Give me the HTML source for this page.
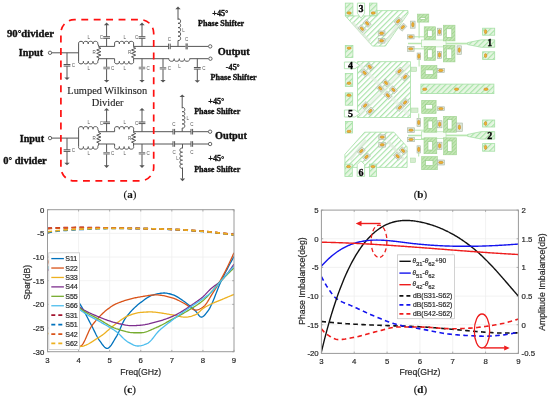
<!DOCTYPE html>
<html><head><meta charset="utf-8"><style>
html,body{margin:0;padding:0;background:#fff;}
svg{display:block;will-change:transform;}
#pc text,#pd text{stroke:#2a2a2a;stroke-width:0.2px;}

</style></head><body>
<svg font-family="Liberation Sans, sans-serif" width="550" height="397" viewBox="0 0 550 397">
<rect width="550" height="397" fill="#fff"/>
<g id="pc">
<line x1="78.58" y1="209.7" x2="78.58" y2="351.7" stroke="#efefef" stroke-width="0.8"/>
<line x1="109.67" y1="209.7" x2="109.67" y2="351.7" stroke="#efefef" stroke-width="0.8"/>
<line x1="140.75" y1="209.7" x2="140.75" y2="351.7" stroke="#efefef" stroke-width="0.8"/>
<line x1="171.83" y1="209.7" x2="171.83" y2="351.7" stroke="#efefef" stroke-width="0.8"/>
<line x1="202.92" y1="209.7" x2="202.92" y2="351.7" stroke="#efefef" stroke-width="0.8"/>
<line x1="47.5" y1="328.03" x2="234.0" y2="328.03" stroke="#efefef" stroke-width="0.8"/>
<line x1="47.5" y1="304.37" x2="234.0" y2="304.37" stroke="#efefef" stroke-width="0.8"/>
<line x1="47.5" y1="280.7" x2="234.0" y2="280.7" stroke="#efefef" stroke-width="0.8"/>
<line x1="47.5" y1="257.03" x2="234.0" y2="257.03" stroke="#efefef" stroke-width="0.8"/>
<line x1="47.5" y1="233.37" x2="234.0" y2="233.37" stroke="#efefef" stroke-width="0.8"/>
<line x1="47.5" y1="351.7" x2="47.5" y2="349.9" stroke="#9a9a9a" stroke-width="0.8"/>
<line x1="47.5" y1="209.7" x2="47.5" y2="211.5" stroke="#9a9a9a" stroke-width="0.8"/>
<line x1="78.58" y1="351.7" x2="78.58" y2="349.9" stroke="#9a9a9a" stroke-width="0.8"/>
<line x1="78.58" y1="209.7" x2="78.58" y2="211.5" stroke="#9a9a9a" stroke-width="0.8"/>
<line x1="109.67" y1="351.7" x2="109.67" y2="349.9" stroke="#9a9a9a" stroke-width="0.8"/>
<line x1="109.67" y1="209.7" x2="109.67" y2="211.5" stroke="#9a9a9a" stroke-width="0.8"/>
<line x1="140.75" y1="351.7" x2="140.75" y2="349.9" stroke="#9a9a9a" stroke-width="0.8"/>
<line x1="140.75" y1="209.7" x2="140.75" y2="211.5" stroke="#9a9a9a" stroke-width="0.8"/>
<line x1="171.83" y1="351.7" x2="171.83" y2="349.9" stroke="#9a9a9a" stroke-width="0.8"/>
<line x1="171.83" y1="209.7" x2="171.83" y2="211.5" stroke="#9a9a9a" stroke-width="0.8"/>
<line x1="202.92" y1="351.7" x2="202.92" y2="349.9" stroke="#9a9a9a" stroke-width="0.8"/>
<line x1="202.92" y1="209.7" x2="202.92" y2="211.5" stroke="#9a9a9a" stroke-width="0.8"/>
<line x1="234" y1="351.7" x2="234" y2="349.9" stroke="#9a9a9a" stroke-width="0.8"/>
<line x1="234" y1="209.7" x2="234" y2="211.5" stroke="#9a9a9a" stroke-width="0.8"/>
<line x1="47.5" y1="351.7" x2="49.3" y2="351.7" stroke="#9a9a9a" stroke-width="0.8"/>
<line x1="234.0" y1="351.7" x2="232.2" y2="351.7" stroke="#9a9a9a" stroke-width="0.8"/>
<line x1="47.5" y1="328.03" x2="49.3" y2="328.03" stroke="#9a9a9a" stroke-width="0.8"/>
<line x1="234.0" y1="328.03" x2="232.2" y2="328.03" stroke="#9a9a9a" stroke-width="0.8"/>
<line x1="47.5" y1="304.37" x2="49.3" y2="304.37" stroke="#9a9a9a" stroke-width="0.8"/>
<line x1="234.0" y1="304.37" x2="232.2" y2="304.37" stroke="#9a9a9a" stroke-width="0.8"/>
<line x1="47.5" y1="280.7" x2="49.3" y2="280.7" stroke="#9a9a9a" stroke-width="0.8"/>
<line x1="234.0" y1="280.7" x2="232.2" y2="280.7" stroke="#9a9a9a" stroke-width="0.8"/>
<line x1="47.5" y1="257.03" x2="49.3" y2="257.03" stroke="#9a9a9a" stroke-width="0.8"/>
<line x1="234.0" y1="257.03" x2="232.2" y2="257.03" stroke="#9a9a9a" stroke-width="0.8"/>
<line x1="47.5" y1="233.37" x2="49.3" y2="233.37" stroke="#9a9a9a" stroke-width="0.8"/>
<line x1="234.0" y1="233.37" x2="232.2" y2="233.37" stroke="#9a9a9a" stroke-width="0.8"/>
<line x1="47.5" y1="209.7" x2="49.3" y2="209.7" stroke="#9a9a9a" stroke-width="0.8"/>
<line x1="234.0" y1="209.7" x2="232.2" y2="209.7" stroke="#9a9a9a" stroke-width="0.8"/>
<clipPath id="clipc"><rect x="47.5" y="209.7" width="186.5" height="142.0"/></clipPath>
<g clip-path="url(#clipc)" fill="none" stroke-linejoin="round">
<path d="M47.5,266.5 L48.44,267.43 L49.37,268.36 L50.31,269.31 L51.25,270.26 L52.19,271.22 L53.12,272.2 L54.06,273.18 L55,274.17 L55.93,275.18 L56.87,276.19 L57.81,277.21 L58.75,278.24 L59.68,279.27 L60.62,280.32 L61.56,281.38 L62.49,282.44 L63.43,283.51 L64.37,284.58 L65.31,285.65 L66.24,286.71 L67.18,287.78 L68.12,288.85 L69.06,289.93 L69.99,291.03 L70.93,292.13 L71.87,293.26 L72.8,294.4 L73.74,295.57 L74.68,296.76 L75.62,297.98 L76.55,299.23 L77.49,300.52 L78.43,301.84 L79.36,303.21 L80.3,304.62 L81.24,306.12 L82.18,307.7 L83.11,309.35 L84.05,311.06 L84.99,312.81 L85.92,314.61 L86.86,316.43 L87.8,318.26 L88.74,320.09 L89.67,321.92 L90.61,323.72 L91.55,325.5 L92.48,327.3 L93.42,329.19 L94.36,331.12 L95.3,333.05 L96.23,334.94 L97.17,336.73 L98.11,338.38 L99.05,339.83 L99.98,341.12 L100.92,342.45 L101.86,343.77 L102.79,345.03 L103.73,346.18 L104.67,347.14 L105.61,347.87 L106.54,348.3 L107.48,348.36 L108.42,348.02 L109.35,347.32 L110.29,346.31 L111.23,345.07 L112.17,343.65 L113.1,342.11 L114.04,340.53 L114.98,338.95 L115.91,337.45 L116.85,335.86 L117.79,334.03 L118.73,332.02 L119.66,329.91 L120.6,327.75 L121.54,325.61 L122.47,323.54 L123.41,321.62 L124.35,319.91 L125.29,318.46 L126.22,317.17 L127.16,315.93 L128.1,314.74 L129.04,313.59 L129.97,312.5 L130.91,311.44 L131.85,310.43 L132.78,309.46 L133.72,308.52 L134.66,307.62 L135.6,306.75 L136.53,305.91 L137.47,305.1 L138.41,304.32 L139.34,303.57 L140.28,302.83 L141.22,302.12 L142.16,301.4 L143.09,300.69 L144.03,299.99 L144.97,299.3 L145.9,298.63 L146.84,298 L147.78,297.39 L148.72,296.83 L149.65,296.31 L150.59,295.85 L151.53,295.45 L152.46,295.11 L153.4,294.84 L154.34,294.6 L155.28,294.36 L156.21,294.14 L157.15,293.92 L158.09,293.72 L159.03,293.54 L159.96,293.38 L160.9,293.25 L161.84,293.14 L162.77,293.06 L163.71,293.02 L164.65,293.01 L165.59,293.06 L166.52,293.17 L167.46,293.33 L168.4,293.53 L169.33,293.75 L170.27,294 L171.21,294.25 L172.15,294.52 L173.08,294.83 L174.02,295.2 L174.96,295.62 L175.89,296.1 L176.83,296.61 L177.77,297.17 L178.71,297.75 L179.64,298.36 L180.58,298.99 L181.52,299.63 L182.45,300.28 L183.39,300.92 L184.33,301.57 L185.27,302.23 L186.2,302.92 L187.14,303.65 L188.08,304.4 L189.02,305.18 L189.95,305.97 L190.89,306.79 L191.83,307.63 L192.76,308.48 L193.7,309.35 L194.64,310.22 L195.58,311.11 L196.51,312.19 L197.45,313.45 L198.39,314.74 L199.32,315.89 L200.26,316.74 L201.2,317.14 L202.14,317.01 L203.07,316.51 L204.01,315.73 L204.95,314.74 L205.88,313.61 L206.82,312.42 L207.76,311.24 L208.7,309.91 L209.63,308.33 L210.57,306.55 L211.51,304.59 L212.44,302.47 L213.38,300.24 L214.32,297.92 L215.26,295.54 L216.19,293.13 L217.13,290.72 L218.07,288.34 L219.01,286.02 L219.94,283.79 L220.88,281.68 L221.82,279.71 L222.75,277.81 L223.69,275.92 L224.63,274.05 L225.57,272.21 L226.5,270.38 L227.44,268.58 L228.38,266.79 L229.31,265.03 L230.25,263.29 L231.19,261.58 L232.13,259.88 L233.06,258.21 L234,256.56" stroke="#0072BD" stroke-width="1.3"/>
<path d="M47.5,259.4 L48.44,261.74 L49.37,264.09 L50.31,266.45 L51.25,268.83 L52.19,271.21 L53.12,273.61 L54.06,276.01 L55,278.43 L55.93,280.86 L56.87,283.3 L57.81,285.75 L58.75,288.21 L59.68,290.69 L60.62,293.17 L61.56,295.66 L62.49,298.17 L63.43,300.71 L64.37,303.49 L65.31,306.51 L66.24,309.73 L67.18,313.09 L68.12,316.53 L69.06,320.02 L69.99,323.49 L70.93,326.9 L71.87,330.2 L72.8,333.34 L73.74,336.26 L74.68,338.91 L75.62,341.25 L76.55,343.22 L77.49,344.77 L78.43,345.86 L79.36,346.42 L80.3,346.42 L81.24,345.9 L82.18,344.93 L83.11,343.57 L84.05,341.92 L84.99,340.02 L85.92,337.97 L86.86,335.82 L87.8,333.66 L88.74,331.55 L89.67,329.57 L90.61,327.78 L91.55,326.27 L92.48,324.96 L93.42,323.71 L94.36,322.5 L95.3,321.33 L96.23,320.2 L97.17,319.11 L98.11,318.07 L99.05,317.06 L99.98,316.08 L100.92,315.13 L101.86,314.21 L102.79,313.32 L103.73,312.45 L104.67,311.62 L105.61,310.83 L106.54,310.07 L107.48,309.34 L108.42,308.63 L109.35,307.93 L110.29,307.24 L111.23,306.57 L112.17,305.94 L113.1,305.35 L114.04,304.8 L114.98,304.31 L115.91,303.88 L116.85,303.49 L117.79,303.11 L118.73,302.74 L119.66,302.38 L120.6,302.03 L121.54,301.69 L122.47,301.36 L123.41,301.05 L124.35,300.74 L125.29,300.44 L126.22,300.15 L127.16,299.87 L128.1,299.6 L129.04,299.34 L129.97,299.09 L130.91,298.85 L131.85,298.61 L132.78,298.39 L133.72,298.17 L134.66,297.96 L135.6,297.76 L136.53,297.57 L137.47,297.38 L138.41,297.2 L139.34,297.03 L140.28,296.87 L141.22,296.72 L142.16,296.56 L143.09,296.4 L144.03,296.24 L144.97,296.08 L145.9,295.93 L146.84,295.78 L147.78,295.63 L148.72,295.5 L149.65,295.37 L150.59,295.26 L151.53,295.16 L152.46,295.07 L153.4,295 L154.34,294.95 L155.28,294.91 L156.21,294.9 L157.15,294.91 L158.09,294.96 L159.03,295.03 L159.96,295.12 L160.9,295.25 L161.84,295.39 L162.77,295.55 L163.71,295.73 L164.65,295.93 L165.59,296.14 L166.52,296.36 L167.46,296.59 L168.4,296.83 L169.33,297.08 L170.27,297.32 L171.21,297.57 L172.15,297.83 L173.08,298.11 L174.02,298.44 L174.96,298.8 L175.89,299.2 L176.83,299.62 L177.77,300.07 L178.71,300.54 L179.64,301.01 L180.58,301.5 L181.52,301.99 L182.45,302.49 L183.39,302.97 L184.33,303.45 L185.27,303.98 L186.2,304.58 L187.14,305.24 L188.08,305.93 L189.02,306.63 L189.95,307.32 L190.89,307.98 L191.83,308.58 L192.76,309.11 L193.7,309.54 L194.64,309.85 L195.58,310.02 L196.51,310.03 L197.45,309.89 L198.39,309.62 L199.32,309.24 L200.26,308.78 L201.2,308.26 L202.14,307.69 L203.07,307.11 L204.01,306.34 L204.95,305.35 L205.88,304.16 L206.82,302.82 L207.76,301.36 L208.7,299.82 L209.63,298.24 L210.57,296.66 L211.51,295.11 L212.44,293.64 L213.38,292.18 L214.32,290.7 L215.26,289.2 L216.19,287.67 L217.13,286.11 L218.07,284.53 L219.01,282.91 L219.94,281.27 L220.88,279.59 L221.82,277.87 L222.75,276.13 L223.69,274.35 L224.63,272.54 L225.57,270.71 L226.5,268.84 L227.44,266.94 L228.38,265 L229.31,263.04 L230.25,261.05 L231.19,259.03 L232.13,256.97 L233.06,254.89 L234,252.77" stroke="#D95319" stroke-width="1.3"/>
<path d="M47.5,332.77 L48.44,333.49 L49.37,334.21 L50.31,334.91 L51.25,335.59 L52.19,336.26 L53.12,336.91 L54.06,337.54 L55,338.14 L55.93,338.73 L56.87,339.29 L57.81,339.82 L58.75,340.32 L59.68,340.8 L60.62,341.24 L61.56,341.65 L62.49,342.03 L63.43,342.37 L64.37,342.71 L65.31,343.06 L66.24,343.39 L67.18,343.73 L68.12,344.06 L69.06,344.37 L69.99,344.68 L70.93,344.97 L71.87,345.24 L72.8,345.5 L73.74,345.73 L74.68,345.93 L75.62,346.11 L76.55,346.26 L77.49,346.37 L78.43,346.45 L79.36,346.49 L80.3,346.48 L81.24,346.41 L82.18,346.27 L83.11,346.06 L84.05,345.8 L84.99,345.48 L85.92,345.11 L86.86,344.69 L87.8,344.23 L88.74,343.74 L89.67,343.22 L90.61,342.67 L91.55,342.09 L92.48,341.5 L93.42,340.9 L94.36,340.28 L95.3,339.67 L96.23,339.05 L97.17,338.44 L98.11,337.84 L99.05,337.25 L99.98,336.67 L100.92,336.04 L101.86,335.38 L102.79,334.67 L103.73,333.94 L104.67,333.17 L105.61,332.38 L106.54,331.58 L107.48,330.76 L108.42,329.94 L109.35,329.12 L110.29,328.3 L111.23,327.49 L112.17,326.69 L113.1,325.91 L114.04,325.16 L114.98,324.44 L115.91,323.75 L116.85,323.07 L117.79,322.38 L118.73,321.69 L119.66,320.99 L120.6,320.3 L121.54,319.62 L122.47,318.97 L123.41,318.34 L124.35,317.74 L125.29,317.18 L126.22,316.67 L127.16,316.21 L128.1,315.81 L129.04,315.46 L129.97,315.11 L130.91,314.78 L131.85,314.45 L132.78,314.14 L133.72,313.85 L134.66,313.58 L135.6,313.32 L136.53,313.09 L137.47,312.89 L138.41,312.71 L139.34,312.57 L140.28,312.46 L141.22,312.37 L142.16,312.3 L143.09,312.23 L144.03,312.16 L144.97,312.11 L145.9,312.05 L146.84,312.01 L147.78,311.98 L148.72,311.95 L149.65,311.94 L150.59,311.94 L151.53,311.96 L152.46,312 L153.4,312.05 L154.34,312.12 L155.28,312.21 L156.21,312.3 L157.15,312.41 L158.09,312.53 L159.03,312.66 L159.96,312.79 L160.9,312.94 L161.84,313.09 L162.77,313.24 L163.71,313.4 L164.65,313.57 L165.59,313.73 L166.52,313.89 L167.46,314.06 L168.4,314.22 L169.33,314.38 L170.27,314.53 L171.21,314.68 L172.15,314.83 L173.08,314.99 L174.02,315.18 L174.96,315.39 L175.89,315.6 L176.83,315.82 L177.77,316.04 L178.71,316.26 L179.64,316.47 L180.58,316.65 L181.52,316.82 L182.45,316.96 L183.39,317.06 L184.33,317.13 L185.27,317.15 L186.2,317.12 L187.14,317.04 L188.08,316.91 L189.02,316.74 L189.95,316.53 L190.89,316.29 L191.83,316.02 L192.76,315.73 L193.7,315.41 L194.64,315.08 L195.58,314.73 L196.51,314.24 L197.45,313.56 L198.39,312.75 L199.32,311.85 L200.26,310.93 L201.2,310.03 L202.14,309.21 L203.07,308.52 L204.01,307.91 L204.95,307.32 L205.88,306.76 L206.82,306.23 L207.76,305.71 L208.7,305.22 L209.63,304.74 L210.57,304.27 L211.51,303.83 L212.44,303.4 L213.38,302.99 L214.32,302.58 L215.26,302.19 L216.19,301.81 L217.13,301.43 L218.07,301.06 L219.01,300.68 L219.94,300.3 L220.88,299.92 L221.82,299.53 L222.75,299.13 L223.69,298.74 L224.63,298.35 L225.57,297.95 L226.5,297.56 L227.44,297.17 L228.38,296.77 L229.31,296.38 L230.25,295.99 L231.19,295.6 L232.13,295.21 L233.06,294.82 L234,294.43" stroke="#EDB120" stroke-width="1.3"/>
<path d="M47.5,268.87 L48.44,269.77 L49.37,270.68 L50.31,271.61 L51.25,272.55 L52.19,273.51 L53.12,274.47 L54.06,275.45 L55,276.44 L55.93,277.45 L56.87,278.46 L57.81,279.49 L58.75,280.53 L59.68,281.58 L60.62,282.64 L61.56,283.71 L62.49,284.8 L63.43,285.9 L64.37,287.07 L65.31,288.3 L66.24,289.59 L67.18,290.93 L68.12,292.3 L69.06,293.69 L69.99,295.09 L70.93,296.48 L71.87,297.86 L72.8,299.21 L73.74,300.51 L74.68,301.77 L75.62,302.96 L76.55,304.08 L77.49,305.11 L78.43,306.04 L79.36,306.85 L80.3,307.55 L81.24,308.21 L82.18,308.84 L83.11,309.44 L84.05,310.02 L84.99,310.57 L85.92,311.1 L86.86,311.6 L87.8,312.09 L88.74,312.56 L89.67,313.01 L90.61,313.45 L91.55,313.87 L92.48,314.28 L93.42,314.69 L94.36,315.08 L95.3,315.47 L96.23,315.86 L97.17,316.24 L98.11,316.62 L99.05,317 L99.98,317.38 L100.92,317.76 L101.86,318.14 L102.79,318.51 L103.73,318.88 L104.67,319.24 L105.61,319.59 L106.54,319.94 L107.48,320.28 L108.42,320.61 L109.35,320.93 L110.29,321.24 L111.23,321.54 L112.17,321.82 L113.1,322.1 L114.04,322.36 L114.98,322.6 L115.91,322.83 L116.85,323.06 L117.79,323.29 L118.73,323.53 L119.66,323.76 L120.6,324 L121.54,324.23 L122.47,324.45 L123.41,324.66 L124.35,324.85 L125.29,325.04 L126.22,325.2 L127.16,325.34 L128.1,325.47 L129.04,325.56 L129.97,325.63 L130.91,325.66 L131.85,325.67 L132.78,325.65 L133.72,325.63 L134.66,325.59 L135.6,325.55 L136.53,325.49 L137.47,325.44 L138.41,325.37 L139.34,325.3 L140.28,325.23 L141.22,325.15 L142.16,325.06 L143.09,324.94 L144.03,324.8 L144.97,324.64 L145.9,324.46 L146.84,324.27 L147.78,324.06 L148.72,323.85 L149.65,323.62 L150.59,323.38 L151.53,323.14 L152.46,322.89 L153.4,322.65 L154.34,322.4 L155.28,322.15 L156.21,321.9 L157.15,321.65 L158.09,321.4 L159.03,321.14 L159.96,320.87 L160.9,320.59 L161.84,320.3 L162.77,320.01 L163.71,319.71 L164.65,319.39 L165.59,319.07 L166.52,318.74 L167.46,318.4 L168.4,318.05 L169.33,317.69 L170.27,317.32 L171.21,316.93 L172.15,316.54 L173.08,316.13 L174.02,315.7 L174.96,315.25 L175.89,314.78 L176.83,314.3 L177.77,313.8 L178.71,313.28 L179.64,312.75 L180.58,312.21 L181.52,311.65 L182.45,311.09 L183.39,310.51 L184.33,309.92 L185.27,309.33 L186.2,308.72 L187.14,308.11 L188.08,307.49 L189.02,306.86 L189.95,306.23 L190.89,305.6 L191.83,304.96 L192.76,304.32 L193.7,303.68 L194.64,303.03 L195.58,302.39 L196.51,301.74 L197.45,301.08 L198.39,300.4 L199.32,299.7 L200.26,298.98 L201.2,298.24 L202.14,297.46 L203.07,296.66 L204.01,295.78 L204.95,294.84 L205.88,293.86 L206.82,292.85 L207.76,291.84 L208.7,290.86 L209.63,289.92 L210.57,289.05 L211.51,288.24 L212.44,287.48 L213.38,286.75 L214.32,286.05 L215.26,285.36 L216.19,284.68 L217.13,283.98 L218.07,283.27 L219.01,282.52 L219.94,281.73 L220.88,280.89 L221.82,279.98 L222.75,279.01 L223.69,278 L224.63,276.94 L225.57,275.84 L226.5,274.69 L227.44,273.5 L228.38,272.27 L229.31,271.01 L230.25,269.7 L231.19,268.36 L232.13,266.98 L233.06,265.57 L234,264.13" stroke="#7E2F8E" stroke-width="1.3"/>
<path d="M47.5,266.5 L48.44,267.58 L49.37,268.68 L50.31,269.78 L51.25,270.88 L52.19,272 L53.12,273.12 L54.06,274.25 L55,275.38 L55.93,276.53 L56.87,277.68 L57.81,278.84 L58.75,280 L59.68,281.17 L60.62,282.35 L61.56,283.54 L62.49,284.73 L63.43,285.94 L64.37,287.2 L65.31,288.52 L66.24,289.88 L67.18,291.28 L68.12,292.7 L69.06,294.13 L69.99,295.57 L70.93,297 L71.87,298.41 L72.8,299.79 L73.74,301.13 L74.68,302.42 L75.62,303.66 L76.55,304.82 L77.49,305.89 L78.43,306.88 L79.36,307.76 L80.3,308.54 L81.24,309.27 L82.18,309.96 L83.11,310.62 L84.05,311.24 L84.99,311.84 L85.92,312.41 L86.86,312.96 L87.8,313.49 L88.74,314 L89.67,314.5 L90.61,314.98 L91.55,315.46 L92.48,315.93 L93.42,316.4 L94.36,316.87 L95.3,317.34 L96.23,317.82 L97.17,318.3 L98.11,318.8 L99.05,319.31 L99.98,319.84 L100.92,320.39 L101.86,320.95 L102.79,321.52 L103.73,322.1 L104.67,322.68 L105.61,323.26 L106.54,323.83 L107.48,324.4 L108.42,324.95 L109.35,325.49 L110.29,326.01 L111.23,326.51 L112.17,326.98 L113.1,327.42 L114.04,327.82 L114.98,328.19 L115.91,328.52 L116.85,328.82 L117.79,329.13 L118.73,329.44 L119.66,329.74 L120.6,330.04 L121.54,330.34 L122.47,330.62 L123.41,330.9 L124.35,331.16 L125.29,331.41 L126.22,331.65 L127.16,331.87 L128.1,332.07 L129.04,332.25 L129.97,332.4 L130.91,332.53 L131.85,332.63 L132.78,332.71 L133.72,332.75 L134.66,332.77 L135.6,332.77 L136.53,332.77 L137.47,332.77 L138.41,332.77 L139.34,332.77 L140.28,332.77 L141.22,332.76 L142.16,332.69 L143.09,332.57 L144.03,332.39 L144.97,332.16 L145.9,331.89 L146.84,331.58 L147.78,331.24 L148.72,330.87 L149.65,330.48 L150.59,330.08 L151.53,329.66 L152.46,329.24 L153.4,328.81 L154.34,328.39 L155.28,327.98 L156.21,327.59 L157.15,327.2 L158.09,326.79 L159.03,326.36 L159.96,325.91 L160.9,325.44 L161.84,324.96 L162.77,324.47 L163.71,323.97 L164.65,323.46 L165.59,322.95 L166.52,322.43 L167.46,321.91 L168.4,321.39 L169.33,320.87 L170.27,320.36 L171.21,319.85 L172.15,319.35 L173.08,318.85 L174.02,318.35 L174.96,317.86 L175.89,317.36 L176.83,316.87 L177.77,316.37 L178.71,315.87 L179.64,315.37 L180.58,314.86 L181.52,314.35 L182.45,313.83 L183.39,313.31 L184.33,312.78 L185.27,312.24 L186.2,311.69 L187.14,311.13 L188.08,310.57 L189.02,310.01 L189.95,309.44 L190.89,308.87 L191.83,308.3 L192.76,307.73 L193.7,307.14 L194.64,306.54 L195.58,305.94 L196.51,305.32 L197.45,304.68 L198.39,304.03 L199.32,303.36 L200.26,302.67 L201.2,301.95 L202.14,301.21 L203.07,300.45 L204.01,299.64 L204.95,298.78 L205.88,297.88 L206.82,296.93 L207.76,295.95 L208.7,294.94 L209.63,293.9 L210.57,292.83 L211.51,291.75 L212.44,290.66 L213.38,289.55 L214.32,288.44 L215.26,287.33 L216.19,286.23 L217.13,285.14 L218.07,284.06 L219.01,283 L219.94,281.96 L220.88,280.95 L221.82,279.97 L222.75,279 L223.69,278.05 L224.63,277.1 L225.57,276.15 L226.5,275.21 L227.44,274.28 L228.38,273.35 L229.31,272.43 L230.25,271.52 L231.19,270.61 L232.13,269.71 L233.06,268.81 L234,267.92" stroke="#77AC30" stroke-width="1.3"/>
<path d="M47.5,266.5 L48.44,267.82 L49.37,269.13 L50.31,270.44 L51.25,271.74 L52.19,273.04 L53.12,274.34 L54.06,275.63 L55,276.92 L55.93,278.2 L56.87,279.48 L57.81,280.76 L58.75,282.03 L59.68,283.29 L60.62,284.56 L61.56,285.82 L62.49,287.07 L63.43,288.32 L64.37,289.61 L65.31,290.92 L66.24,292.26 L67.18,293.61 L68.12,294.97 L69.06,296.33 L69.99,297.69 L70.93,299.03 L71.87,300.34 L72.8,301.63 L73.74,302.88 L74.68,304.09 L75.62,305.24 L76.55,306.33 L77.49,307.36 L78.43,308.31 L79.36,309.18 L80.3,309.96 L81.24,310.7 L82.18,311.41 L83.11,312.08 L84.05,312.72 L84.99,313.33 L85.92,313.92 L86.86,314.48 L87.8,315.03 L88.74,315.56 L89.67,316.08 L90.61,316.59 L91.55,317.09 L92.48,317.58 L93.42,318.08 L94.36,318.58 L95.3,319.08 L96.23,319.59 L97.17,320.11 L98.11,320.64 L99.05,321.19 L99.98,321.75 L100.92,322.3 L101.86,322.85 L102.79,323.39 L103.73,323.92 L104.67,324.45 L105.61,324.98 L106.54,325.51 L107.48,326.04 L108.42,326.58 L109.35,327.13 L110.29,327.69 L111.23,328.26 L112.17,328.84 L113.1,329.44 L114.04,330.06 L114.98,330.71 L115.91,331.37 L116.85,332.09 L117.79,332.89 L118.73,333.74 L119.66,334.64 L120.6,335.56 L121.54,336.5 L122.47,337.43 L123.41,338.35 L124.35,339.23 L125.29,340.07 L126.22,340.83 L127.16,341.52 L128.1,342.11 L129.04,342.63 L129.97,343.16 L130.91,343.69 L131.85,344.19 L132.78,344.67 L133.72,345.1 L134.66,345.46 L135.6,345.74 L136.53,345.94 L137.47,346.02 L138.41,346 L139.34,345.91 L140.28,345.77 L141.22,345.58 L142.16,345.34 L143.09,345.07 L144.03,344.76 L144.97,344.42 L145.9,344.07 L146.84,343.7 L147.78,343.25 L148.72,342.62 L149.65,341.82 L150.59,340.89 L151.53,339.85 L152.46,338.73 L153.4,337.55 L154.34,336.34 L155.28,335.13 L156.21,333.93 L157.15,332.79 L158.09,331.72 L159.03,330.75 L159.96,329.89 L160.9,329.06 L161.84,328.26 L162.77,327.48 L163.71,326.71 L164.65,325.96 L165.59,325.22 L166.52,324.5 L167.46,323.78 L168.4,323.07 L169.33,322.36 L170.27,321.65 L171.21,320.94 L172.15,320.22 L173.08,319.51 L174.02,318.8 L174.96,318.09 L175.89,317.39 L176.83,316.69 L177.77,316 L178.71,315.31 L179.64,314.62 L180.58,313.94 L181.52,313.26 L182.45,312.59 L183.39,311.92 L184.33,311.25 L185.27,310.58 L186.2,309.92 L187.14,309.26 L188.08,308.61 L189.02,307.97 L189.95,307.34 L190.89,306.71 L191.83,306.1 L192.76,305.48 L193.7,304.87 L194.64,304.26 L195.58,303.65 L196.51,303.04 L197.45,302.42 L198.39,301.8 L199.32,301.18 L200.26,300.54 L201.2,299.9 L202.14,299.24 L203.07,298.57 L204.01,297.91 L204.95,297.24 L205.88,296.57 L206.82,295.89 L207.76,295.18 L208.7,294.44 L209.63,293.66 L210.57,292.83 L211.51,291.93 L212.44,290.98 L213.38,289.96 L214.32,288.9 L215.26,287.81 L216.19,286.69 L217.13,285.55 L218.07,284.4 L219.01,283.26 L219.94,282.13 L220.88,281.02 L221.82,279.94 L222.75,278.87 L223.69,277.8 L224.63,276.73 L225.57,275.66 L226.5,274.59 L227.44,273.52 L228.38,272.45 L229.31,271.38 L230.25,270.31 L231.19,269.24 L232.13,268.17 L233.06,267.1 L234,266.03" stroke="#4DBEEE" stroke-width="1.3"/>
<path d="M47.5,228.3 L49.07,228.22 L50.63,228.14 L52.2,228.07 L53.77,228 L55.34,227.93 L56.9,227.87 L58.47,227.82 L60.04,227.77 L61.61,227.72 L63.17,227.68 L64.74,227.65 L66.31,227.61 L67.87,227.58 L69.44,227.55 L71.01,227.52 L72.58,227.5 L74.14,227.48 L75.71,227.46 L77.28,227.45 L78.84,227.45 L80.41,227.45 L81.98,227.46 L83.55,227.47 L85.11,227.49 L86.68,227.5 L88.25,227.52 L89.82,227.55 L91.38,227.57 L92.95,227.6 L94.52,227.63 L96.08,227.66 L97.65,227.69 L99.22,227.72 L100.79,227.75 L102.35,227.79 L103.92,227.82 L105.49,227.85 L107.05,227.88 L108.62,227.91 L110.19,227.93 L111.76,227.96 L113.32,227.98 L114.89,228.01 L116.46,228.04 L118.03,228.06 L119.59,228.09 L121.16,228.12 L122.73,228.14 L124.29,228.17 L125.86,228.2 L127.43,228.23 L129,228.26 L130.56,228.28 L132.13,228.31 L133.7,228.34 L135.26,228.38 L136.83,228.41 L138.4,228.44 L139.97,228.47 L141.53,228.51 L143.1,228.54 L144.67,228.58 L146.24,228.61 L147.8,228.65 L149.37,228.68 L150.94,228.72 L152.5,228.76 L154.07,228.8 L155.64,228.84 L157.21,228.88 L158.77,228.92 L160.34,228.97 L161.91,229.01 L163.47,229.06 L165.04,229.11 L166.61,229.16 L168.18,229.21 L169.74,229.27 L171.31,229.32 L172.88,229.38 L174.45,229.45 L176.01,229.52 L177.58,229.59 L179.15,229.67 L180.71,229.75 L182.28,229.84 L183.85,229.93 L185.42,230.02 L186.98,230.11 L188.55,230.21 L190.12,230.31 L191.68,230.42 L193.25,230.53 L194.82,230.64 L196.39,230.75 L197.95,230.86 L199.52,230.98 L201.09,231.1 L202.66,231.22 L204.22,231.34 L205.79,231.47 L207.36,231.62 L208.92,231.76 L210.49,231.92 L212.06,232.08 L213.63,232.24 L215.19,232.4 L216.76,232.57 L218.33,232.74 L219.89,232.9 L221.46,233.08 L223.03,233.25 L224.6,233.43 L226.16,233.61 L227.73,233.79 L229.3,233.98 L230.87,234.16 L232.43,234.36 L234,234.55" stroke="#A2142F" stroke-width="1.7" stroke-dasharray="4.6 3.4"/>
<path d="M47.5,232.61 L49.07,232.35 L50.63,232.09 L52.2,231.85 L53.77,231.61 L55.34,231.39 L56.9,231.18 L58.47,230.99 L60.04,230.81 L61.61,230.66 L63.17,230.52 L64.74,230.39 L66.31,230.28 L67.87,230.17 L69.44,230.07 L71.01,229.98 L72.58,229.89 L74.14,229.81 L75.71,229.73 L77.28,229.65 L78.84,229.57 L80.41,229.48 L81.98,229.4 L83.55,229.32 L85.11,229.25 L86.68,229.17 L88.25,229.1 L89.82,229.03 L91.38,228.97 L92.95,228.91 L94.52,228.86 L96.08,228.81 L97.65,228.75 L99.22,228.7 L100.79,228.65 L102.35,228.61 L103.92,228.57 L105.49,228.53 L107.05,228.51 L108.62,228.49 L110.19,228.49 L111.76,228.49 L113.32,228.49 L114.89,228.49 L116.46,228.5 L118.03,228.5 L119.59,228.5 L121.16,228.51 L122.73,228.51 L124.29,228.51 L125.86,228.52 L127.43,228.52 L129,228.53 L130.56,228.54 L132.13,228.54 L133.7,228.55 L135.26,228.56 L136.83,228.57 L138.4,228.57 L139.97,228.58 L141.53,228.59 L143.1,228.6 L144.67,228.62 L146.24,228.65 L147.8,228.67 L149.37,228.7 L150.94,228.74 L152.5,228.78 L154.07,228.82 L155.64,228.86 L157.21,228.91 L158.77,228.96 L160.34,229.01 L161.91,229.07 L163.47,229.12 L165.04,229.18 L166.61,229.24 L168.18,229.3 L169.74,229.36 L171.31,229.42 L172.88,229.48 L174.45,229.55 L176.01,229.62 L177.58,229.7 L179.15,229.78 L180.71,229.87 L182.28,229.96 L183.85,230.06 L185.42,230.16 L186.98,230.27 L188.55,230.38 L190.12,230.49 L191.68,230.6 L193.25,230.72 L194.82,230.84 L196.39,230.96 L197.95,231.08 L199.52,231.2 L201.09,231.33 L202.66,231.45 L204.22,231.58 L205.79,231.71 L207.36,231.85 L208.92,232 L210.49,232.15 L212.06,232.31 L213.63,232.47 L215.19,232.63 L216.76,232.8 L218.33,232.97 L219.89,233.15 L221.46,233.34 L223.03,233.53 L224.6,233.72 L226.16,233.93 L227.73,234.14 L229.3,234.35 L230.87,234.57 L232.43,234.79 L234,235.02" stroke="#0072BD" stroke-width="1.7" stroke-dasharray="4.6 3.4"/>
<path d="M47.5,228.63 L49.07,228.54 L50.63,228.45 L52.2,228.36 L53.77,228.28 L55.34,228.2 L56.9,228.13 L58.47,228.07 L60.04,228.01 L61.61,227.96 L63.17,227.92 L64.74,227.88 L66.31,227.85 L67.87,227.82 L69.44,227.79 L71.01,227.76 L72.58,227.73 L74.14,227.71 L75.71,227.7 L77.28,227.69 L78.84,227.69 L80.41,227.69 L81.98,227.69 L83.55,227.7 L85.11,227.71 L86.68,227.72 L88.25,227.74 L89.82,227.75 L91.38,227.77 L92.95,227.79 L94.52,227.81 L96.08,227.83 L97.65,227.85 L99.22,227.87 L100.79,227.89 L102.35,227.92 L103.92,227.94 L105.49,227.96 L107.05,227.98 L108.62,228 L110.19,228.02 L111.76,228.05 L113.32,228.07 L114.89,228.09 L116.46,228.11 L118.03,228.13 L119.59,228.16 L121.16,228.18 L122.73,228.21 L124.29,228.23 L125.86,228.26 L127.43,228.29 L129,228.31 L130.56,228.34 L132.13,228.37 L133.7,228.4 L135.26,228.43 L136.83,228.46 L138.4,228.49 L139.97,228.52 L141.53,228.56 L143.1,228.59 L144.67,228.62 L146.24,228.66 L147.8,228.69 L149.37,228.73 L150.94,228.76 L152.5,228.8 L154.07,228.84 L155.64,228.88 L157.21,228.92 L158.77,228.97 L160.34,229.01 L161.91,229.06 L163.47,229.11 L165.04,229.15 L166.61,229.21 L168.18,229.26 L169.74,229.31 L171.31,229.37 L172.88,229.43 L174.45,229.49 L176.01,229.56 L177.58,229.63 L179.15,229.71 L180.71,229.79 L182.28,229.87 L183.85,229.96 L185.42,230.04 L186.98,230.14 L188.55,230.23 L190.12,230.33 L191.68,230.43 L193.25,230.54 L194.82,230.64 L196.39,230.75 L197.95,230.87 L199.52,230.98 L201.09,231.1 L202.66,231.22 L204.22,231.34 L205.79,231.48 L207.36,231.62 L208.92,231.78 L210.49,231.94 L212.06,232.11 L213.63,232.28 L215.19,232.45 L216.76,232.62 L218.33,232.78 L219.89,232.95 L221.46,233.12 L223.03,233.29 L224.6,233.47 L226.16,233.64 L227.73,233.82 L229.3,234 L230.87,234.18 L232.43,234.36 L234,234.55" stroke="#D95319" stroke-width="1.7" stroke-dasharray="4.6 3.4"/>
<path d="M47.5,231.95 L49.07,231.71 L50.63,231.47 L52.2,231.25 L53.77,231.04 L55.34,230.84 L56.9,230.65 L58.47,230.47 L60.04,230.31 L61.61,230.17 L63.17,230.04 L64.74,229.93 L66.31,229.83 L67.87,229.73 L69.44,229.64 L71.01,229.56 L72.58,229.48 L74.14,229.4 L75.71,229.33 L77.28,229.26 L78.84,229.19 L80.41,229.12 L81.98,229.05 L83.55,228.99 L85.11,228.92 L86.68,228.86 L88.25,228.8 L89.82,228.75 L91.38,228.7 L92.95,228.66 L94.52,228.62 L96.08,228.59 L97.65,228.56 L99.22,228.52 L100.79,228.49 L102.35,228.47 L103.92,228.44 L105.49,228.42 L107.05,228.41 L108.62,228.4 L110.19,228.4 L111.76,228.4 L113.32,228.4 L114.89,228.4 L116.46,228.41 L118.03,228.41 L119.59,228.41 L121.16,228.42 L122.73,228.43 L124.29,228.43 L125.86,228.44 L127.43,228.45 L129,228.46 L130.56,228.47 L132.13,228.48 L133.7,228.49 L135.26,228.5 L136.83,228.51 L138.4,228.52 L139.97,228.53 L141.53,228.55 L143.1,228.56 L144.67,228.58 L146.24,228.6 L147.8,228.63 L149.37,228.66 L150.94,228.69 L152.5,228.73 L154.07,228.77 L155.64,228.81 L157.21,228.85 L158.77,228.9 L160.34,228.95 L161.91,229 L163.47,229.05 L165.04,229.1 L166.61,229.16 L168.18,229.21 L169.74,229.27 L171.31,229.32 L172.88,229.38 L174.45,229.45 L176.01,229.51 L177.58,229.59 L179.15,229.67 L180.71,229.75 L182.28,229.84 L183.85,229.93 L185.42,230.02 L186.98,230.12 L188.55,230.22 L190.12,230.33 L191.68,230.43 L193.25,230.55 L194.82,230.66 L196.39,230.78 L197.95,230.9 L199.52,231.02 L201.09,231.14 L202.66,231.26 L204.22,231.39 L205.79,231.53 L207.36,231.68 L208.92,231.84 L210.49,232.01 L212.06,232.18 L213.63,232.35 L215.19,232.53 L216.76,232.7 L218.33,232.88 L219.89,233.06 L221.46,233.24 L223.03,233.42 L224.6,233.61 L226.16,233.8 L227.73,233.99 L229.3,234.18 L230.87,234.38 L232.43,234.58 L234,234.79" stroke="#EDB120" stroke-width="1.7" stroke-dasharray="4.6 3.4"/>
</g>
<rect x="47.5" y="209.7" width="186.5" height="142.0" fill="none" stroke="#9a9a9a" stroke-width="1"/>
<rect x="48.8" y="252.8" width="30.700000000000003" height="96.59999999999997" fill="#fff" stroke="#c8c8c8" stroke-width="0.8"/>
<line x1="51.3" y1="258.6" x2="63.9" y2="258.6" stroke="#0072BD" stroke-width="1.3"/>
<text x="65.2" y="261.1" font-size="7.1" fill="#2a2a2a">S11</text>
<line x1="51.3" y1="268.03" x2="63.9" y2="268.03" stroke="#D95319" stroke-width="1.3"/>
<text x="65.2" y="270.53" font-size="7.1" fill="#2a2a2a">S22</text>
<line x1="51.3" y1="277.46" x2="63.9" y2="277.46" stroke="#EDB120" stroke-width="1.3"/>
<text x="65.2" y="279.96" font-size="7.1" fill="#2a2a2a">S33</text>
<line x1="51.3" y1="286.89" x2="63.9" y2="286.89" stroke="#7E2F8E" stroke-width="1.3"/>
<text x="65.2" y="289.39" font-size="7.1" fill="#2a2a2a">S44</text>
<line x1="51.3" y1="296.32" x2="63.9" y2="296.32" stroke="#77AC30" stroke-width="1.3"/>
<text x="65.2" y="298.82" font-size="7.1" fill="#2a2a2a">S55</text>
<line x1="51.3" y1="305.75" x2="63.9" y2="305.75" stroke="#4DBEEE" stroke-width="1.3"/>
<text x="65.2" y="308.25" font-size="7.1" fill="#2a2a2a">S66</text>
<line x1="51.3" y1="315.18" x2="63.9" y2="315.18" stroke="#A2142F" stroke-width="1.7" stroke-dasharray="4 3"/>
<text x="65.2" y="317.68" font-size="7.1" fill="#2a2a2a">S31</text>
<line x1="51.3" y1="324.61" x2="63.9" y2="324.61" stroke="#0072BD" stroke-width="1.7" stroke-dasharray="4 3"/>
<text x="65.2" y="327.11" font-size="7.1" fill="#2a2a2a">S51</text>
<line x1="51.3" y1="334.04" x2="63.9" y2="334.04" stroke="#D95319" stroke-width="1.7" stroke-dasharray="4 3"/>
<text x="65.2" y="336.54" font-size="7.1" fill="#2a2a2a">S42</text>
<line x1="51.3" y1="343.47" x2="63.9" y2="343.47" stroke="#EDB120" stroke-width="1.7" stroke-dasharray="4 3"/>
<text x="65.2" y="345.97" font-size="7.1" fill="#2a2a2a">S62</text>
<text x="44.3" y="354.5" font-size="7.8" fill="#2a2a2a" text-anchor="end">-30</text>
<text x="44.3" y="330.83" font-size="7.8" fill="#2a2a2a" text-anchor="end">-25</text>
<text x="44.3" y="307.17" font-size="7.8" fill="#2a2a2a" text-anchor="end">-20</text>
<text x="44.3" y="283.5" font-size="7.8" fill="#2a2a2a" text-anchor="end">-15</text>
<text x="44.3" y="259.83" font-size="7.8" fill="#2a2a2a" text-anchor="end">-10</text>
<text x="44.3" y="236.17" font-size="7.8" fill="#2a2a2a" text-anchor="end">-5</text>
<text x="44.3" y="212.5" font-size="7.8" fill="#2a2a2a" text-anchor="end">0</text>
<text x="47.5" y="362.9" font-size="7.8" fill="#2a2a2a" text-anchor="middle">3</text>
<text x="78.58" y="362.9" font-size="7.8" fill="#2a2a2a" text-anchor="middle">4</text>
<text x="109.67" y="362.9" font-size="7.8" fill="#2a2a2a" text-anchor="middle">5</text>
<text x="140.75" y="362.9" font-size="7.8" fill="#2a2a2a" text-anchor="middle">6</text>
<text x="171.83" y="362.9" font-size="7.8" fill="#2a2a2a" text-anchor="middle">7</text>
<text x="202.92" y="362.9" font-size="7.8" fill="#2a2a2a" text-anchor="middle">8</text>
<text x="234" y="362.9" font-size="7.8" fill="#2a2a2a" text-anchor="middle">9</text>
<text x="140.75" y="374.6" font-size="8.7" fill="#2a2a2a" text-anchor="middle">Freq(GHz)</text>
<text transform="translate(29.5,282.3) rotate(-90)" font-size="8.7" fill="#2a2a2a" text-anchor="middle">Spar(dB)</text>
<text x="129.8" y="393.4" font-family="Liberation Serif, serif" font-size="11" fill="#111" text-anchor="middle">(<tspan font-weight="bold">c</tspan>)</text>
</g>
<g id="pd">
<line x1="354.23" y1="210.1" x2="354.23" y2="353.4" stroke="#efefef" stroke-width="0.8"/>
<line x1="387.07" y1="210.1" x2="387.07" y2="353.4" stroke="#efefef" stroke-width="0.8"/>
<line x1="419.9" y1="210.1" x2="419.9" y2="353.4" stroke="#efefef" stroke-width="0.8"/>
<line x1="452.73" y1="210.1" x2="452.73" y2="353.4" stroke="#efefef" stroke-width="0.8"/>
<line x1="485.57" y1="210.1" x2="485.57" y2="353.4" stroke="#efefef" stroke-width="0.8"/>
<line x1="321.4" y1="324.74" x2="518.4" y2="324.74" stroke="#efefef" stroke-width="0.8"/>
<line x1="321.4" y1="296.08" x2="518.4" y2="296.08" stroke="#efefef" stroke-width="0.8"/>
<line x1="321.4" y1="267.42" x2="518.4" y2="267.42" stroke="#efefef" stroke-width="0.8"/>
<line x1="321.4" y1="238.76" x2="518.4" y2="238.76" stroke="#efefef" stroke-width="0.8"/>
<line x1="321.4" y1="353.4" x2="321.4" y2="351.59999999999997" stroke="#9a9a9a" stroke-width="0.8"/>
<line x1="321.4" y1="210.1" x2="321.4" y2="211.9" stroke="#9a9a9a" stroke-width="0.8"/>
<line x1="354.23" y1="353.4" x2="354.23" y2="351.59999999999997" stroke="#9a9a9a" stroke-width="0.8"/>
<line x1="354.23" y1="210.1" x2="354.23" y2="211.9" stroke="#9a9a9a" stroke-width="0.8"/>
<line x1="387.07" y1="353.4" x2="387.07" y2="351.59999999999997" stroke="#9a9a9a" stroke-width="0.8"/>
<line x1="387.07" y1="210.1" x2="387.07" y2="211.9" stroke="#9a9a9a" stroke-width="0.8"/>
<line x1="419.9" y1="353.4" x2="419.9" y2="351.59999999999997" stroke="#9a9a9a" stroke-width="0.8"/>
<line x1="419.9" y1="210.1" x2="419.9" y2="211.9" stroke="#9a9a9a" stroke-width="0.8"/>
<line x1="452.73" y1="353.4" x2="452.73" y2="351.59999999999997" stroke="#9a9a9a" stroke-width="0.8"/>
<line x1="452.73" y1="210.1" x2="452.73" y2="211.9" stroke="#9a9a9a" stroke-width="0.8"/>
<line x1="485.57" y1="353.4" x2="485.57" y2="351.59999999999997" stroke="#9a9a9a" stroke-width="0.8"/>
<line x1="485.57" y1="210.1" x2="485.57" y2="211.9" stroke="#9a9a9a" stroke-width="0.8"/>
<line x1="518.4" y1="353.4" x2="518.4" y2="351.59999999999997" stroke="#9a9a9a" stroke-width="0.8"/>
<line x1="518.4" y1="210.1" x2="518.4" y2="211.9" stroke="#9a9a9a" stroke-width="0.8"/>
<line x1="321.4" y1="353.4" x2="323.2" y2="353.4" stroke="#9a9a9a" stroke-width="0.8"/>
<line x1="321.4" y1="324.74" x2="323.2" y2="324.74" stroke="#9a9a9a" stroke-width="0.8"/>
<line x1="321.4" y1="296.08" x2="323.2" y2="296.08" stroke="#9a9a9a" stroke-width="0.8"/>
<line x1="321.4" y1="267.42" x2="323.2" y2="267.42" stroke="#9a9a9a" stroke-width="0.8"/>
<line x1="321.4" y1="238.76" x2="323.2" y2="238.76" stroke="#9a9a9a" stroke-width="0.8"/>
<line x1="321.4" y1="210.1" x2="323.2" y2="210.1" stroke="#9a9a9a" stroke-width="0.8"/>
<line x1="518.4" y1="210.1" x2="516.6" y2="210.1" stroke="#9a9a9a" stroke-width="0.8"/>
<line x1="518.4" y1="238.76" x2="516.6" y2="238.76" stroke="#9a9a9a" stroke-width="0.8"/>
<line x1="518.4" y1="267.42" x2="516.6" y2="267.42" stroke="#9a9a9a" stroke-width="0.8"/>
<line x1="518.4" y1="296.08" x2="516.6" y2="296.08" stroke="#9a9a9a" stroke-width="0.8"/>
<line x1="518.4" y1="324.74" x2="516.6" y2="324.74" stroke="#9a9a9a" stroke-width="0.8"/>
<line x1="518.4" y1="353.4" x2="516.6" y2="353.4" stroke="#9a9a9a" stroke-width="0.8"/>
<clipPath id="clipd"><rect x="321.4" y="210.1" width="197.0" height="143.29999999999998"/></clipPath>
<g clip-path="url(#clipd)" fill="none" stroke-linejoin="round">
<path d="M321.4,321.53 L322.72,321.66 L324.04,321.79 L325.37,321.91 L326.69,322.04 L328.01,322.16 L329.33,322.29 L330.66,322.41 L331.98,322.52 L333.3,322.64 L334.62,322.75 L335.94,322.87 L337.27,322.98 L338.59,323.08 L339.91,323.19 L341.23,323.29 L342.55,323.39 L343.88,323.49 L345.2,323.59 L346.52,323.68 L347.84,323.77 L349.17,323.86 L350.49,323.94 L351.81,324.02 L353.13,324.1 L354.45,324.18 L355.78,324.25 L357.1,324.32 L358.42,324.39 L359.74,324.46 L361.06,324.53 L362.39,324.59 L363.71,324.65 L365.03,324.71 L366.35,324.77 L367.68,324.83 L369,324.89 L370.32,324.94 L371.64,325 L372.96,325.05 L374.29,325.1 L375.61,325.16 L376.93,325.21 L378.25,325.26 L379.57,325.31 L380.9,325.36 L382.22,325.41 L383.54,325.46 L384.86,325.51 L386.19,325.57 L387.51,325.62 L388.83,325.67 L390.15,325.71 L391.47,325.76 L392.8,325.8 L394.12,325.85 L395.44,325.89 L396.76,325.93 L398.08,325.97 L399.41,326.01 L400.73,326.05 L402.05,326.09 L403.37,326.13 L404.7,326.17 L406.02,326.21 L407.34,326.25 L408.66,326.3 L409.98,326.34 L411.31,326.39 L412.63,326.44 L413.95,326.49 L415.27,326.54 L416.59,326.6 L417.92,326.65 L419.24,326.71 L420.56,326.78 L421.88,326.85 L423.21,326.92 L424.53,327 L425.85,327.09 L427.17,327.18 L428.49,327.27 L429.82,327.37 L431.14,327.47 L432.46,327.58 L433.78,327.68 L435.1,327.79 L436.43,327.9 L437.75,328.02 L439.07,328.13 L440.39,328.25 L441.72,328.37 L443.04,328.48 L444.36,328.6 L445.68,328.72 L447,328.83 L448.33,328.95 L449.65,329.06 L450.97,329.18 L452.29,329.29 L453.61,329.4 L454.94,329.51 L456.26,329.63 L457.58,329.75 L458.9,329.87 L460.23,329.99 L461.55,330.11 L462.87,330.24 L464.19,330.36 L465.51,330.49 L466.84,330.62 L468.16,330.74 L469.48,330.87 L470.8,330.99 L472.12,331.11 L473.45,331.23 L474.77,331.35 L476.09,331.47 L477.41,331.58 L478.74,331.69 L480.06,331.8 L481.38,331.9 L482.7,332 L484.02,332.09 L485.35,332.18 L486.67,332.26 L487.99,332.35 L489.31,332.45 L490.63,332.54 L491.96,332.63 L493.28,332.72 L494.6,332.8 L495.92,332.88 L497.25,332.94 L498.57,332.99 L499.89,333.03 L501.21,333.05 L502.53,333.05 L503.86,333.05 L505.18,333.05 L506.5,333.05 L507.82,333.04 L509.14,333.03 L510.47,333.01 L511.79,332.99 L513.11,332.96 L514.43,332.93 L515.76,332.88 L517.08,332.83 L518.4,332.76" stroke="#111111" stroke-width="1.6" stroke-dasharray="4.6 3.4"/>
<path d="M321.4,276.59 L322.72,279.14 L324.04,281.59 L325.37,283.91 L326.69,286.1 L328.01,288.12 L329.33,290.07 L330.66,292 L331.98,293.85 L333.3,295.54 L334.62,297.01 L335.94,298.2 L337.27,299.14 L338.59,299.99 L339.91,300.76 L341.23,301.46 L342.55,302.11 L343.88,302.71 L345.2,303.28 L346.52,303.82 L347.84,304.34 L349.17,304.86 L350.49,305.38 L351.81,305.91 L353.13,306.48 L354.45,307.07 L355.78,307.69 L357.1,308.3 L358.42,308.92 L359.74,309.54 L361.06,310.16 L362.39,310.77 L363.71,311.39 L365.03,312 L366.35,312.61 L367.68,313.21 L369,313.81 L370.32,314.4 L371.64,314.98 L372.96,315.56 L374.29,316.12 L375.61,316.68 L376.93,317.22 L378.25,317.75 L379.57,318.28 L380.9,318.8 L382.22,319.33 L383.54,319.86 L384.86,320.38 L386.19,320.9 L387.51,321.4 L388.83,321.9 L390.15,322.38 L391.47,322.84 L392.8,323.28 L394.12,323.7 L395.44,324.09 L396.76,324.45 L398.08,324.78 L399.41,325.09 L400.73,325.39 L402.05,325.66 L403.37,325.93 L404.7,326.18 L406.02,326.42 L407.34,326.66 L408.66,326.88 L409.98,327.1 L411.31,327.32 L412.63,327.54 L413.95,327.75 L415.27,327.97 L416.59,328.18 L417.92,328.41 L419.24,328.64 L420.56,328.87 L421.88,329.11 L423.21,329.36 L424.53,329.62 L425.85,329.88 L427.17,330.14 L428.49,330.4 L429.82,330.67 L431.14,330.93 L432.46,331.2 L433.78,331.46 L435.1,331.72 L436.43,331.98 L437.75,332.24 L439.07,332.48 L440.39,332.72 L441.72,332.96 L443.04,333.18 L444.36,333.4 L445.68,333.6 L447,333.8 L448.33,333.98 L449.65,334.15 L450.97,334.3 L452.29,334.44 L453.61,334.57 L454.94,334.69 L456.26,334.8 L457.58,334.91 L458.9,335.01 L460.23,335.11 L461.55,335.2 L462.87,335.29 L464.19,335.37 L465.51,335.44 L466.84,335.52 L468.16,335.58 L469.48,335.65 L470.8,335.71 L472.12,335.77 L473.45,335.84 L474.77,335.9 L476.09,335.96 L477.41,336.02 L478.74,336.07 L480.06,336.11 L481.38,336.15 L482.7,336.18 L484.02,336.2 L485.35,336.2 L486.67,336.2 L487.99,336.17 L489.31,336.12 L490.63,336.05 L491.96,335.97 L493.28,335.87 L494.6,335.77 L495.92,335.65 L497.25,335.53 L498.57,335.4 L499.89,335.27 L501.21,335.13 L502.53,335 L503.86,334.85 L505.18,334.68 L506.5,334.49 L507.82,334.29 L509.14,334.07 L510.47,333.84 L511.79,333.59 L513.11,333.33 L514.43,333.06 L515.76,332.78 L517.08,332.49 L518.4,332.19" stroke="#1414ee" stroke-width="1.6" stroke-dasharray="4.6 3.4"/>
<path d="M321.4,328.75 L322.72,330.35 L324.04,331.85 L325.37,333.16 L326.69,334.16 L328.01,335.07 L329.33,335.96 L330.66,336.81 L331.98,337.59 L333.3,338.28 L334.62,338.85 L335.94,339.29 L337.27,339.56 L338.59,339.64 L339.91,339.61 L341.23,339.53 L342.55,339.4 L343.88,339.24 L345.2,339.05 L346.52,338.83 L347.84,338.59 L349.17,338.34 L350.49,338.08 L351.81,337.81 L353.13,337.56 L354.45,337.31 L355.78,337.05 L357.1,336.77 L358.42,336.47 L359.74,336.14 L361.06,335.81 L362.39,335.46 L363.71,335.09 L365.03,334.72 L366.35,334.35 L367.68,333.97 L369,333.59 L370.32,333.21 L371.64,332.83 L372.96,332.47 L374.29,332.11 L375.61,331.76 L376.93,331.43 L378.25,331.11 L379.57,330.8 L380.9,330.46 L382.22,330.11 L383.54,329.75 L384.86,329.38 L386.19,329.02 L387.51,328.67 L388.83,328.33 L390.15,328.02 L391.47,327.74 L392.8,327.49 L394.12,327.3 L395.44,327.15 L396.76,327.06 L398.08,327.03 L399.41,327.03 L400.73,327.03 L402.05,327.03 L403.37,327.03 L404.7,327.03 L406.02,327.03 L407.34,327.03 L408.66,327.03 L409.98,327.03 L411.31,327.03 L412.63,327.03 L413.95,327.03 L415.27,327.03 L416.59,327.03 L417.92,327.03 L419.24,327.03 L420.56,327.03 L421.88,327.05 L423.21,327.08 L424.53,327.13 L425.85,327.18 L427.17,327.25 L428.49,327.32 L429.82,327.41 L431.14,327.5 L432.46,327.6 L433.78,327.7 L435.1,327.8 L436.43,327.9 L437.75,328 L439.07,328.11 L440.39,328.21 L441.72,328.3 L443.04,328.39 L444.36,328.47 L445.68,328.55 L447,328.61 L448.33,328.67 L449.65,328.71 L450.97,328.74 L452.29,328.75 L453.61,328.75 L454.94,328.74 L456.26,328.72 L457.58,328.68 L458.9,328.65 L460.23,328.6 L461.55,328.55 L462.87,328.49 L464.19,328.43 L465.51,328.37 L466.84,328.3 L468.16,328.23 L469.48,328.16 L470.8,328.08 L472.12,327.98 L473.45,327.87 L474.77,327.75 L476.09,327.62 L477.41,327.47 L478.74,327.32 L480.06,327.16 L481.38,327 L482.7,326.83 L484.02,326.66 L485.35,326.49 L486.67,326.31 L487.99,326.13 L489.31,325.93 L490.63,325.72 L491.96,325.51 L493.28,325.29 L494.6,325.05 L495.92,324.81 L497.25,324.56 L498.57,324.3 L499.89,324.03 L501.21,323.76 L502.53,323.47 L503.86,323.18 L505.18,322.86 L506.5,322.53 L507.82,322.19 L509.14,321.83 L510.47,321.46 L511.79,321.08 L513.11,320.69 L514.43,320.28 L515.76,319.87 L517.08,319.44 L518.4,319.01" stroke="#ee1c1c" stroke-width="1.6" stroke-dasharray="4.6 3.4"/>
<path d="M321.4,351.88 L322.39,347.8 L323.38,343.8 L324.37,339.89 L325.36,336.07 L326.35,332.34 L327.34,328.69 L328.33,325.12 L329.32,321.64 L330.31,318.24 L331.3,314.92 L332.29,311.68 L333.28,308.51 L334.27,305.43 L335.26,302.42 L336.25,299.49 L337.24,296.63 L338.23,293.84 L339.22,291.13 L340.21,288.48 L341.2,285.91 L342.19,283.41 L343.18,280.97 L344.17,278.6 L345.16,276.29 L346.15,274.05 L347.14,271.87 L348.13,269.75 L349.12,267.7 L350.11,265.7 L351.1,263.77 L352.09,261.89 L353.08,260.06 L354.07,258.3 L355.06,256.58 L356.05,254.92 L357.04,253.32 L358.03,251.76 L359.02,250.25 L360.01,248.8 L361,247.39 L361.99,246.02 L362.98,244.7 L363.97,243.43 L364.96,242.2 L365.95,241.01 L366.94,239.87 L367.93,238.76 L368.92,237.69 L369.91,236.66 L370.9,235.67 L371.89,234.72 L372.88,233.8 L373.87,232.92 L374.86,232.07 L375.85,231.26 L376.84,230.48 L377.83,229.74 L378.82,229.03 L379.81,228.35 L380.8,227.7 L381.79,227.09 L382.78,226.51 L383.77,225.96 L384.76,225.43 L385.75,224.94 L386.74,224.48 L387.73,224.04 L388.72,223.64 L389.71,223.26 L390.7,222.9 L391.69,222.57 L392.68,222.27 L393.67,222 L394.66,221.74 L395.65,221.52 L396.64,221.31 L397.63,221.13 L398.62,220.97 L399.61,220.84 L400.6,220.72 L401.59,220.62 L402.58,220.55 L403.57,220.5 L404.56,220.46 L405.55,220.44 L406.54,220.44 L407.53,220.46 L408.52,220.5 L409.51,220.55 L410.5,220.62 L411.49,220.7 L412.48,220.8 L413.47,220.91 L414.46,221.03 L415.45,221.17 L416.44,221.32 L417.43,221.49 L418.42,221.66 L419.41,221.85 L420.39,222.04 L421.38,222.25 L422.37,222.47 L423.36,222.69 L424.35,222.93 L425.34,223.17 L426.33,223.43 L427.32,223.7 L428.31,223.97 L429.3,224.26 L430.29,224.56 L431.28,224.86 L432.27,225.18 L433.26,225.51 L434.25,225.85 L435.24,226.2 L436.23,226.56 L437.22,226.93 L438.21,227.31 L439.2,227.71 L440.19,228.11 L441.18,228.53 L442.17,228.95 L443.16,229.39 L444.15,229.84 L445.14,230.3 L446.13,230.77 L447.12,231.25 L448.11,231.75 L449.1,232.25 L450.09,232.77 L451.08,233.3 L452.07,233.84 L453.06,234.39 L454.05,234.95 L455.04,235.53 L456.03,236.12 L457.02,236.72 L458.01,237.33 L459,237.95 L459.99,238.59 L460.98,239.24 L461.97,239.9 L462.96,240.57 L463.95,241.26 L464.94,241.96 L465.93,242.67 L466.92,243.39 L467.91,244.13 L468.9,244.88 L469.89,245.64 L470.88,246.42 L471.87,247.2 L472.86,248.01 L473.85,248.82 L474.84,249.65 L475.83,250.49 L476.82,251.34 L477.81,252.21 L478.8,253.09 L479.79,253.98 L480.78,254.89 L481.77,255.81 L482.76,256.74 L483.75,257.69 L484.74,258.66 L485.73,259.63 L486.72,260.62 L487.71,261.62 L488.7,262.64 L489.69,263.67 L490.68,264.71 L491.67,265.76 L492.66,266.82 L493.65,267.89 L494.64,268.96 L495.63,270.05 L496.62,271.15 L497.61,272.25 L498.6,273.36 L499.59,274.48 L500.58,275.6 L501.57,276.73 L502.56,277.86 L503.55,279 L504.54,280.14 L505.53,281.28 L506.52,282.43 L507.51,283.57 L508.5,284.72 L509.49,285.87 L510.48,287.02 L511.47,288.17 L512.46,289.31 L513.45,290.46 L514.44,291.6 L515.43,292.74 L516.42,293.88 L517.41,295.01 L518.4,296.14" stroke="#111111" stroke-width="1.4"/>
<path d="M321.4,266.18 L322.39,265.07 L323.38,263.99 L324.37,262.94 L325.36,261.91 L326.35,260.92 L327.34,259.95 L328.33,259.02 L329.32,258.11 L330.31,257.23 L331.3,256.37 L332.29,255.55 L333.28,254.75 L334.27,253.97 L335.26,253.22 L336.25,252.5 L337.24,251.8 L338.23,251.13 L339.22,250.48 L340.21,249.85 L341.2,249.25 L342.19,248.67 L343.18,248.12 L344.17,247.58 L345.16,247.07 L346.15,246.58 L347.14,246.11 L348.13,245.66 L349.12,245.23 L350.11,244.83 L351.1,244.44 L352.09,244.07 L353.08,243.72 L354.07,243.39 L355.06,243.08 L356.05,242.78 L357.04,242.51 L358.03,242.25 L359.02,242 L360.01,241.78 L361,241.57 L361.99,241.37 L362.98,241.19 L363.97,241.03 L364.96,240.88 L365.95,240.74 L366.94,240.62 L367.93,240.51 L368.92,240.41 L369.91,240.33 L370.9,240.26 L371.89,240.2 L372.88,240.15 L373.87,240.12 L374.86,240.09 L375.85,240.08 L376.84,240.07 L377.83,240.08 L378.82,240.09 L379.81,240.12 L380.8,240.15 L381.79,240.19 L382.78,240.24 L383.77,240.29 L384.76,240.36 L385.75,240.43 L386.74,240.5 L387.73,240.58 L388.72,240.67 L389.71,240.76 L390.7,240.86 L391.69,240.96 L392.68,241.07 L393.67,241.18 L394.66,241.29 L395.65,241.41 L396.64,241.53 L397.63,241.65 L398.62,241.77 L399.61,241.9 L400.6,242.02 L401.59,242.15 L402.58,242.28 L403.57,242.4 L404.56,242.53 L405.55,242.66 L406.54,242.78 L407.53,242.9 L408.52,243.03 L409.51,243.14 L410.5,243.26 L411.49,243.38 L412.48,243.49 L413.47,243.6 L414.46,243.71 L415.45,243.81 L416.44,243.91 L417.43,244.01 L418.42,244.11 L419.41,244.21 L420.39,244.3 L421.38,244.39 L422.37,244.48 L423.36,244.57 L424.35,244.65 L425.34,244.74 L426.33,244.82 L427.32,244.89 L428.31,244.97 L429.3,245.04 L430.29,245.12 L431.28,245.18 L432.27,245.25 L433.26,245.32 L434.25,245.38 L435.24,245.44 L436.23,245.5 L437.22,245.55 L438.21,245.61 L439.2,245.66 L440.19,245.71 L441.18,245.76 L442.17,245.8 L443.16,245.85 L444.15,245.89 L445.14,245.93 L446.13,245.97 L447.12,246 L448.11,246.04 L449.1,246.07 L450.09,246.1 L451.08,246.13 L452.07,246.15 L453.06,246.18 L454.05,246.2 L455.04,246.22 L456.03,246.24 L457.02,246.25 L458.01,246.27 L459,246.28 L459.99,246.29 L460.98,246.3 L461.97,246.31 L462.96,246.31 L463.95,246.32 L464.94,246.32 L465.93,246.32 L466.92,246.32 L467.91,246.31 L468.9,246.31 L469.89,246.3 L470.88,246.29 L471.87,246.28 L472.86,246.27 L473.85,246.25 L474.84,246.24 L475.83,246.22 L476.82,246.2 L477.81,246.18 L478.8,246.16 L479.79,246.13 L480.78,246.11 L481.77,246.08 L482.76,246.05 L483.75,246.02 L484.74,245.99 L485.73,245.95 L486.72,245.92 L487.71,245.88 L488.7,245.84 L489.69,245.8 L490.68,245.76 L491.67,245.72 L492.66,245.67 L493.65,245.63 L494.64,245.58 L495.63,245.53 L496.62,245.48 L497.61,245.43 L498.6,245.37 L499.59,245.32 L500.58,245.26 L501.57,245.2 L502.56,245.14 L503.55,245.08 L504.54,245.02 L505.53,244.96 L506.52,244.89 L507.51,244.83 L508.5,244.76 L509.49,244.69 L510.48,244.62 L511.47,244.55 L512.46,244.48 L513.45,244.4 L514.44,244.33 L515.43,244.25 L516.42,244.18 L517.41,244.1 L518.4,244.02" stroke="#1414ee" stroke-width="1.4"/>
<path d="M321.4,242.21 L322.39,242.23 L323.38,242.25 L324.37,242.27 L325.36,242.29 L326.35,242.31 L327.34,242.34 L328.33,242.36 L329.32,242.39 L330.31,242.42 L331.3,242.44 L332.29,242.47 L333.28,242.5 L334.27,242.53 L335.26,242.56 L336.25,242.59 L337.24,242.63 L338.23,242.66 L339.22,242.69 L340.21,242.73 L341.2,242.77 L342.19,242.8 L343.18,242.84 L344.17,242.88 L345.16,242.92 L346.15,242.96 L347.14,243 L348.13,243.04 L349.12,243.08 L350.11,243.12 L351.1,243.17 L352.09,243.21 L353.08,243.26 L354.07,243.3 L355.06,243.35 L356.05,243.4 L357.04,243.44 L358.03,243.49 L359.02,243.54 L360.01,243.59 L361,243.64 L361.99,243.69 L362.98,243.75 L363.97,243.8 L364.96,243.85 L365.95,243.9 L366.94,243.96 L367.93,244.01 L368.92,244.07 L369.91,244.13 L370.9,244.18 L371.89,244.24 L372.88,244.3 L373.87,244.36 L374.86,244.41 L375.85,244.47 L376.84,244.53 L377.83,244.59 L378.82,244.65 L379.81,244.72 L380.8,244.78 L381.79,244.84 L382.78,244.9 L383.77,244.97 L384.76,245.03 L385.75,245.09 L386.74,245.16 L387.73,245.22 L388.72,245.29 L389.71,245.35 L390.7,245.42 L391.69,245.49 L392.68,245.55 L393.67,245.62 L394.66,245.69 L395.65,245.76 L396.64,245.83 L397.63,245.9 L398.62,245.97 L399.61,246.03 L400.6,246.1 L401.59,246.18 L402.58,246.25 L403.57,246.32 L404.56,246.39 L405.55,246.46 L406.54,246.53 L407.53,246.6 L408.52,246.68 L409.51,246.75 L410.5,246.82 L411.49,246.89 L412.48,246.97 L413.47,247.04 L414.46,247.12 L415.45,247.19 L416.44,247.26 L417.43,247.34 L418.42,247.41 L419.41,247.49 L420.39,247.56 L421.38,247.64 L422.37,247.71 L423.36,247.79 L424.35,247.86 L425.34,247.94 L426.33,248.02 L427.32,248.09 L428.31,248.17 L429.3,248.24 L430.29,248.32 L431.28,248.4 L432.27,248.47 L433.26,248.55 L434.25,248.63 L435.24,248.7 L436.23,248.78 L437.22,248.86 L438.21,248.93 L439.2,249.01 L440.19,249.09 L441.18,249.16 L442.17,249.24 L443.16,249.32 L444.15,249.39 L445.14,249.47 L446.13,249.55 L447.12,249.62 L448.11,249.7 L449.1,249.78 L450.09,249.85 L451.08,249.93 L452.07,250 L453.06,250.08 L454.05,250.16 L455.04,250.23 L456.03,250.31 L457.02,250.38 L458.01,250.46 L459,250.54 L459.99,250.61 L460.98,250.69 L461.97,250.76 L462.96,250.84 L463.95,250.91 L464.94,250.99 L465.93,251.06 L466.92,251.13 L467.91,251.21 L468.9,251.28 L469.89,251.35 L470.88,251.43 L471.87,251.5 L472.86,251.57 L473.85,251.65 L474.84,251.72 L475.83,251.79 L476.82,251.86 L477.81,251.93 L478.8,252 L479.79,252.07 L480.78,252.15 L481.77,252.22 L482.76,252.29 L483.75,252.35 L484.74,252.42 L485.73,252.49 L486.72,252.56 L487.71,252.63 L488.7,252.7 L489.69,252.76 L490.68,252.83 L491.67,252.9 L492.66,252.96 L493.65,253.03 L494.64,253.09 L495.63,253.16 L496.62,253.22 L497.61,253.29 L498.6,253.35 L499.59,253.41 L500.58,253.48 L501.57,253.54 L502.56,253.6 L503.55,253.66 L504.54,253.72 L505.53,253.78 L506.52,253.84 L507.51,253.9 L508.5,253.96 L509.49,254.02 L510.48,254.07 L511.47,254.13 L512.46,254.19 L513.45,254.24 L514.44,254.3 L515.43,254.35 L516.42,254.41 L517.41,254.46 L518.4,254.51" stroke="#ee1c1c" stroke-width="1.4"/>
</g>
<rect x="321.4" y="210.1" width="197.0" height="143.29999999999998" fill="none" stroke="#9a9a9a" stroke-width="1"/>
<ellipse cx="379" cy="241.3" rx="7.9" ry="16.2" fill="none" stroke="#ee1c1c" stroke-width="1.3" stroke-dasharray="4.2 2.8"/>
<line x1="361" y1="223.5" x2="380.6" y2="223.5" stroke="#ee1c1c" stroke-width="1.4"/>
<path d="M355.7,223.5 L361.5,220.8 L361.5,226.2 Z" fill="#ee1c1c"/>
<ellipse cx="482" cy="331" rx="7.7" ry="17" fill="none" stroke="#ee1c1c" stroke-width="1.3"/>
<line x1="483.7" y1="347.9" x2="504.6" y2="347.9" stroke="#ee1c1c" stroke-width="1.4"/>
<path d="M509.7,347.9 L504.2,345.4 L504.2,350.4 Z" fill="#ee1c1c"/>
<rect x="397.4" y="254.8" width="57.1" height="63.9" fill="#fff" stroke="#c8c8c8" stroke-width="0.8"/>
<line x1="399.4" y1="261.3" x2="410.8" y2="261.3" stroke="#111111" stroke-width="1.4"/>
<text x="412.4" y="262.7" font-size="6.6" fill="#2a2a2a"><tspan font-style="italic">θ</tspan><tspan font-size="5.9" dy="3.1">31</tspan><tspan dy="-3.1">-</tspan><tspan font-style="italic">θ</tspan><tspan font-size="5.9" dy="3.1">62</tspan><tspan dy="-3.1">+90</tspan></text>
<line x1="399.4" y1="273.1" x2="410.8" y2="273.1" stroke="#1414ee" stroke-width="1.4"/>
<text x="412.4" y="274.5" font-size="6.6" fill="#2a2a2a"><tspan font-style="italic">θ</tspan><tspan font-size="5.9" dy="3.1">51</tspan><tspan dy="-3.1">-</tspan><tspan font-style="italic">θ</tspan><tspan font-size="5.9" dy="3.1">62</tspan><tspan dy="-3.1"></tspan></text>
<line x1="399.4" y1="284.7" x2="410.8" y2="284.7" stroke="#ee1c1c" stroke-width="1.4"/>
<text x="412.4" y="286.1" font-size="6.6" fill="#2a2a2a"><tspan font-style="italic">θ</tspan><tspan font-size="5.9" dy="3.1">42</tspan><tspan dy="-3.1">-</tspan><tspan font-style="italic">θ</tspan><tspan font-size="5.9" dy="3.1">62</tspan><tspan dy="-3.1"></tspan></text>
<line x1="399.4" y1="295.9" x2="411" y2="295.9" stroke="#111111" stroke-width="1.6" stroke-dasharray="4 3"/>
<text x="413" y="298.3" font-size="6.8" fill="#2a2a2a">dB(S31-S62)</text>
<line x1="399.4" y1="304.9" x2="411" y2="304.9" stroke="#1414ee" stroke-width="1.6" stroke-dasharray="4 3"/>
<text x="413" y="307.3" font-size="6.8" fill="#2a2a2a">dB(S51-S62)</text>
<line x1="399.4" y1="313.9" x2="411" y2="313.9" stroke="#ee1c1c" stroke-width="1.6" stroke-dasharray="4 3"/>
<text x="413" y="316.3" font-size="6.8" fill="#2a2a2a">dB(S42-S62)</text>
<text x="318.7" y="356.2" font-size="7.8" fill="#2a2a2a" text-anchor="end">-20</text>
<text x="318.7" y="327.54" font-size="7.8" fill="#2a2a2a" text-anchor="end">-15</text>
<text x="318.7" y="298.88" font-size="7.8" fill="#2a2a2a" text-anchor="end">-10</text>
<text x="318.7" y="270.22" font-size="7.8" fill="#2a2a2a" text-anchor="end">-5</text>
<text x="318.7" y="241.56" font-size="7.8" fill="#2a2a2a" text-anchor="end">0</text>
<text x="318.7" y="212.9" font-size="7.8" fill="#2a2a2a" text-anchor="end">5</text>
<text x="521.6" y="212.9" font-size="7.8" fill="#2a2a2a">2</text>
<text x="521.6" y="241.56" font-size="7.8" fill="#2a2a2a">1.5</text>
<text x="521.6" y="270.22" font-size="7.8" fill="#2a2a2a">1</text>
<text x="521.6" y="298.88" font-size="7.8" fill="#2a2a2a">0.5</text>
<text x="521.6" y="327.54" font-size="7.8" fill="#2a2a2a">0</text>
<text x="521.6" y="356.2" font-size="7.8" fill="#2a2a2a">-0.5</text>
<text x="321.4" y="363.9" font-size="7.8" fill="#2a2a2a" text-anchor="middle">3</text>
<text x="354.23" y="363.9" font-size="7.8" fill="#2a2a2a" text-anchor="middle">4</text>
<text x="387.07" y="363.9" font-size="7.8" fill="#2a2a2a" text-anchor="middle">5</text>
<text x="419.9" y="363.9" font-size="7.8" fill="#2a2a2a" text-anchor="middle">6</text>
<text x="452.73" y="363.9" font-size="7.8" fill="#2a2a2a" text-anchor="middle">7</text>
<text x="485.57" y="363.9" font-size="7.8" fill="#2a2a2a" text-anchor="middle">8</text>
<text x="518.4" y="363.9" font-size="7.8" fill="#2a2a2a" text-anchor="middle">9</text>
<text x="419.9" y="375.4" font-size="8.7" fill="#2a2a2a" text-anchor="middle">Freq(GHz)</text>
<text transform="translate(305.1,281.1) rotate(-90)" font-size="8.7" fill="#2a2a2a" text-anchor="middle">Phase Imbalance(deg)</text>
<text transform="translate(545.0,282.1) rotate(-90)" font-size="8.7" fill="#2a2a2a" text-anchor="middle">Amplitude Imbalance(dB)</text>
<text x="420.4" y="393.4" font-family="Liberation Serif, serif" font-size="11" fill="#111" text-anchor="middle">(<tspan font-weight="bold">d</tspan>)</text>
</g>
<g id="pa">
<circle cx="50" cy="52.8" r="1.7" fill="#fff" stroke="#555" stroke-width="0.9"/>
<line x1="51.7" y1="52.8" x2="78.6" y2="52.8" stroke="#555555" stroke-width="1.0"/>
<line x1="67" y1="52.8" x2="67" y2="64.5" stroke="#555555" stroke-width="1.0"/>
<line x1="67" y1="66.1" x2="67" y2="78" stroke="#555555" stroke-width="1.0"/>
<path d="M64.3,77.4 L69.7,77.4 L67,80 Z" fill="#555"/>
<line x1="63.6" y1="64.5" x2="70.4" y2="64.5" stroke="#555555" stroke-width="1.0"/>
<line x1="63.6" y1="66.1" x2="70.4" y2="66.1" stroke="#555555" stroke-width="1.0"/>
<text x="73.4" y="67" font-size="4.5" fill="#555" text-anchor="middle">C</text>
<line x1="78.6" y1="43.9" x2="78.6" y2="61.3" stroke="#555555" stroke-width="1.0"/>
<path d="M78.6,43.9 C77.7,40.44 84.3,40.44 83.4,43.9 C82.5,40.44 89.1,40.44 88.2,43.9 C87.3,40.44 93.9,40.44 93,43.9 C92.1,40.44 98.7,40.44 97.8,43.9" fill="none" stroke="#555555" stroke-width="1.0"/>
<path d="M78.6,61.3 C77.7,64.76 84.3,64.76 83.4,61.3 C82.5,64.76 89.1,64.76 88.2,61.3 C87.3,64.76 93.9,64.76 93,61.3 C92.1,64.76 98.7,64.76 97.8,61.3" fill="none" stroke="#555555" stroke-width="1.0"/>
<line x1="97.8" y1="43.9" x2="98.8" y2="46.4" stroke="#555555" stroke-width="1.0"/>
<line x1="97.8" y1="61.3" x2="98.8" y2="58.7" stroke="#555555" stroke-width="1.0"/>
<path d="M98.8,46.4 L98.8,47.4 L100.9,48.26 L96.7,49.98 L100.9,51.69 L96.7,53.41 L100.9,55.12 L96.7,56.84 L98.8,57.7 L98.8,58.7" fill="none" stroke="#555555" stroke-width="1.0"/>
<text x="88.7" y="39.1" font-size="4.5" fill="#555" text-anchor="middle">L</text>
<text x="88.7" y="69.8" font-size="4.5" fill="#555" text-anchor="middle">L</text>
<text x="94.2" y="54.4" font-size="4.5" fill="#555" text-anchor="middle">R</text>
<line x1="98.8" y1="46.4" x2="114.6" y2="46.4" stroke="#555555" stroke-width="1.0"/>
<line x1="98.8" y1="58.7" x2="114.6" y2="58.7" stroke="#555555" stroke-width="1.0"/>
<line x1="106.6" y1="46.4" x2="106.6" y2="38.3" stroke="#555555" stroke-width="1.0"/>
<line x1="106.6" y1="36.7" x2="106.6" y2="24.6" stroke="#555555" stroke-width="1.0"/>
<path d="M103.9,25.2 L109.3,25.2 L106.6,22.6 Z" fill="#555"/>
<line x1="103.2" y1="36.7" x2="110" y2="36.7" stroke="#555555" stroke-width="1.0"/>
<line x1="103.2" y1="38.3" x2="110" y2="38.3" stroke="#555555" stroke-width="1.0"/>
<text x="101.3" y="39.3" font-size="4.5" fill="#555" text-anchor="middle">C</text>
<line x1="106.6" y1="58.7" x2="106.6" y2="67.2" stroke="#555555" stroke-width="1.0"/>
<line x1="106.6" y1="68.8" x2="106.6" y2="80.6" stroke="#555555" stroke-width="1.0"/>
<path d="M103.9,80 L109.3,80 L106.6,82.6 Z" fill="#555"/>
<rect x="103.4" y="66.7" width="6.4" height="2.6" fill="#8a8a8a"/>
<line x1="103.4" y1="68" x2="109.8" y2="68" stroke="#ddd" stroke-width="0.5"/>
<text x="112.7" y="69.7" font-size="4.5" fill="#555" text-anchor="middle">C</text>
<line x1="114.6" y1="46.4" x2="114.6" y2="43.9" stroke="#555555" stroke-width="1.0"/>
<line x1="114.6" y1="58.7" x2="114.6" y2="61.3" stroke="#555555" stroke-width="1.0"/>
<path d="M114.6,43.9 C113.7,40.44 120.25,40.44 119.35,43.9 C118.45,40.44 125,40.44 124.1,43.9 C123.2,40.44 129.75,40.44 128.85,43.9 C127.95,40.44 134.5,40.44 133.6,43.9" fill="none" stroke="#555555" stroke-width="1.0"/>
<path d="M114.6,61.3 C113.7,64.76 120.25,64.76 119.35,61.3 C118.45,64.76 125,64.76 124.1,61.3 C123.2,64.76 129.75,64.76 128.85,61.3 C127.95,64.76 134.5,64.76 133.6,61.3" fill="none" stroke="#555555" stroke-width="1.0"/>
<line x1="133.6" y1="43.9" x2="133.6" y2="46.4" stroke="#555555" stroke-width="1.0"/>
<line x1="133.6" y1="61.3" x2="133.6" y2="58.7" stroke="#555555" stroke-width="1.0"/>
<path d="M133.6,46.4 L133.6,47.4 L135.7,48.26 L131.5,49.98 L135.7,51.69 L131.5,53.41 L135.7,55.12 L131.5,56.84 L133.6,57.7 L133.6,58.7" fill="none" stroke="#555555" stroke-width="1.0"/>
<text x="124.7" y="39.1" font-size="4.5" fill="#555" text-anchor="middle">L</text>
<text x="124.7" y="69.8" font-size="4.5" fill="#555" text-anchor="middle">L</text>
<text x="129.6" y="54.4" font-size="4.5" fill="#555" text-anchor="middle">R</text>
<line x1="142" y1="46.4" x2="142" y2="38.3" stroke="#555555" stroke-width="1.0"/>
<line x1="142" y1="36.7" x2="142" y2="24.6" stroke="#555555" stroke-width="1.0"/>
<path d="M139.3,25.2 L144.7,25.2 L142,22.6 Z" fill="#555"/>
<line x1="138.6" y1="36.7" x2="145.4" y2="36.7" stroke="#555555" stroke-width="1.0"/>
<line x1="138.6" y1="38.3" x2="145.4" y2="38.3" stroke="#555555" stroke-width="1.0"/>
<text x="136.6" y="39.3" font-size="4.5" fill="#555" text-anchor="middle">C</text>
<line x1="142" y1="58.7" x2="142" y2="67.2" stroke="#555555" stroke-width="1.0"/>
<line x1="142" y1="68.8" x2="142" y2="80.6" stroke="#555555" stroke-width="1.0"/>
<path d="M139.3,80 L144.7,80 L142,82.6 Z" fill="#555"/>
<rect x="138.8" y="66.7" width="6.4" height="2.6" fill="#8a8a8a"/>
<line x1="138.8" y1="68" x2="145.2" y2="68" stroke="#ddd" stroke-width="0.5"/>
<text x="148.2" y="69.7" font-size="4.5" fill="#555" text-anchor="middle">C</text>
<line x1="133.6" y1="46.4" x2="168.6" y2="46.4" stroke="#555555" stroke-width="1.0"/>
<line x1="168.6" y1="43.6" x2="168.6" y2="49.2" stroke="#555555" stroke-width="1.0"/>
<line x1="170.2" y1="43.6" x2="170.2" y2="49.2" stroke="#555555" stroke-width="1.0"/>
<line x1="170.2" y1="46.4" x2="185.8" y2="46.4" stroke="#555555" stroke-width="1.0"/>
<rect x="185.4" y="43.4" width="2.6" height="6" fill="#8a8a8a"/>
<line x1="188" y1="46.4" x2="208.4" y2="46.4" stroke="#555555" stroke-width="1.0"/>
<circle cx="210.2" cy="46.4" r="1.7" fill="#fff" stroke="#555" stroke-width="0.9"/>
<line x1="178" y1="46.4" x2="178" y2="40.5" stroke="#555555" stroke-width="1.0"/>
<path d="M178,19 C181.46,18.1 181.46,24.2 178,23.3 C181.46,22.4 181.46,28.5 178,27.6 C181.46,26.7 181.46,32.8 178,31.9 C181.46,31 181.46,37.1 178,36.2 C181.46,35.3 181.46,41.4 178,40.5" fill="none" stroke="#555555" stroke-width="1.0"/>
<line x1="178" y1="19.8" x2="178" y2="9" stroke="#555555" stroke-width="1.0"/>
<path d="M175.3,9.2 L180.7,9.2 L178,6.6 Z" fill="#555"/>
<text x="183.6" y="31.7" font-size="4.5" fill="#555" text-anchor="middle">L</text>
<text x="169.4" y="40.9" font-size="4.5" fill="#555" text-anchor="middle">C</text>
<text x="186.7" y="40.9" font-size="4.5" fill="#555" text-anchor="middle">C</text>
<line x1="133.6" y1="58.7" x2="169" y2="58.7" stroke="#555555" stroke-width="1.0"/>
<path d="M169,58.7 C168.1,62.16 175.05,62.16 174.15,58.7 C173.25,62.16 180.2,62.16 179.3,58.7 C178.4,62.16 185.35,62.16 184.45,58.7 C183.55,62.16 190.5,62.16 189.6,58.7" fill="none" stroke="#555555" stroke-width="1.0"/>
<line x1="189.6" y1="58.7" x2="208.4" y2="58.7" stroke="#555555" stroke-width="1.0"/>
<circle cx="210.4" cy="58.7" r="1.7" fill="#fff" stroke="#555" stroke-width="0.9"/>
<line x1="163" y1="58.7" x2="163" y2="67.5" stroke="#555555" stroke-width="1.0"/>
<line x1="163" y1="69.1" x2="163" y2="80.5" stroke="#555555" stroke-width="1.0"/>
<path d="M160.3,79.9 L165.7,79.9 L163,82.5 Z" fill="#555"/>
<rect x="159.8" y="67" width="6.4" height="2.6" fill="#8a8a8a"/>
<line x1="159.8" y1="68.3" x2="166.2" y2="68.3" stroke="#ddd" stroke-width="0.5"/>
<text x="169.4" y="69.8" font-size="4.5" fill="#555" text-anchor="middle">C</text>
<line x1="197.3" y1="58.7" x2="197.3" y2="67.5" stroke="#555555" stroke-width="1.0"/>
<line x1="197.3" y1="69.1" x2="197.3" y2="80.8" stroke="#555555" stroke-width="1.0"/>
<path d="M194.6,80.2 L200,80.2 L197.3,82.8 Z" fill="#555"/>
<line x1="193.9" y1="67.5" x2="200.7" y2="67.5" stroke="#555555" stroke-width="1.0"/>
<line x1="193.9" y1="69.1" x2="200.7" y2="69.1" stroke="#555555" stroke-width="1.0"/>
<text x="203.8" y="69.8" font-size="4.5" fill="#555" text-anchor="middle">C</text>
<text x="179.5" y="68.3" font-size="4.5" fill="#555" text-anchor="middle">L</text>
<circle cx="50" cy="138.1" r="1.7" fill="#fff" stroke="#555" stroke-width="0.9"/>
<line x1="51.7" y1="138.1" x2="78.6" y2="138.1" stroke="#555555" stroke-width="1.0"/>
<line x1="67" y1="138.1" x2="67" y2="149.8" stroke="#555555" stroke-width="1.0"/>
<line x1="67" y1="151.4" x2="67" y2="163.3" stroke="#555555" stroke-width="1.0"/>
<path d="M64.3,162.7 L69.7,162.7 L67,165.3 Z" fill="#555"/>
<line x1="63.6" y1="149.8" x2="70.4" y2="149.8" stroke="#555555" stroke-width="1.0"/>
<line x1="63.6" y1="151.4" x2="70.4" y2="151.4" stroke="#555555" stroke-width="1.0"/>
<text x="73.4" y="152.3" font-size="4.5" fill="#555" text-anchor="middle">C</text>
<line x1="78.6" y1="129.2" x2="78.6" y2="146.6" stroke="#555555" stroke-width="1.0"/>
<path d="M78.6,129.2 C77.7,125.74 84.3,125.74 83.4,129.2 C82.5,125.74 89.1,125.74 88.2,129.2 C87.3,125.74 93.9,125.74 93,129.2 C92.1,125.74 98.7,125.74 97.8,129.2" fill="none" stroke="#555555" stroke-width="1.0"/>
<path d="M78.6,146.6 C77.7,150.06 84.3,150.06 83.4,146.6 C82.5,150.06 89.1,150.06 88.2,146.6 C87.3,150.06 93.9,150.06 93,146.6 C92.1,150.06 98.7,150.06 97.8,146.6" fill="none" stroke="#555555" stroke-width="1.0"/>
<line x1="97.8" y1="129.2" x2="98.8" y2="131.7" stroke="#555555" stroke-width="1.0"/>
<line x1="97.8" y1="146.6" x2="98.8" y2="144" stroke="#555555" stroke-width="1.0"/>
<path d="M98.8,131.7 L98.8,132.7 L100.9,133.56 L96.7,135.27 L100.9,136.99 L96.7,138.71 L100.9,140.43 L96.7,142.14 L98.8,143 L98.8,144" fill="none" stroke="#555555" stroke-width="1.0"/>
<text x="88.7" y="124.4" font-size="4.5" fill="#555" text-anchor="middle">L</text>
<text x="88.7" y="155.1" font-size="4.5" fill="#555" text-anchor="middle">L</text>
<text x="94.2" y="139.7" font-size="4.5" fill="#555" text-anchor="middle">R</text>
<line x1="98.8" y1="131.7" x2="114.6" y2="131.7" stroke="#555555" stroke-width="1.0"/>
<line x1="98.8" y1="144" x2="114.6" y2="144" stroke="#555555" stroke-width="1.0"/>
<line x1="106.6" y1="131.7" x2="106.6" y2="123.6" stroke="#555555" stroke-width="1.0"/>
<line x1="106.6" y1="122" x2="106.6" y2="109.9" stroke="#555555" stroke-width="1.0"/>
<path d="M103.9,110.5 L109.3,110.5 L106.6,107.9 Z" fill="#555"/>
<line x1="103.2" y1="122" x2="110" y2="122" stroke="#555555" stroke-width="1.0"/>
<line x1="103.2" y1="123.6" x2="110" y2="123.6" stroke="#555555" stroke-width="1.0"/>
<text x="101.3" y="124.6" font-size="4.5" fill="#555" text-anchor="middle">C</text>
<line x1="106.6" y1="144" x2="106.6" y2="152.5" stroke="#555555" stroke-width="1.0"/>
<line x1="106.6" y1="154.1" x2="106.6" y2="165.9" stroke="#555555" stroke-width="1.0"/>
<path d="M103.9,165.3 L109.3,165.3 L106.6,167.9 Z" fill="#555"/>
<rect x="103.4" y="152" width="6.4" height="2.6" fill="#8a8a8a"/>
<line x1="103.4" y1="153.3" x2="109.8" y2="153.3" stroke="#ddd" stroke-width="0.5"/>
<text x="112.7" y="155" font-size="4.5" fill="#555" text-anchor="middle">C</text>
<line x1="114.6" y1="131.7" x2="114.6" y2="129.2" stroke="#555555" stroke-width="1.0"/>
<line x1="114.6" y1="144" x2="114.6" y2="146.6" stroke="#555555" stroke-width="1.0"/>
<path d="M114.6,129.2 C113.7,125.74 120.25,125.74 119.35,129.2 C118.45,125.74 125,125.74 124.1,129.2 C123.2,125.74 129.75,125.74 128.85,129.2 C127.95,125.74 134.5,125.74 133.6,129.2" fill="none" stroke="#555555" stroke-width="1.0"/>
<path d="M114.6,146.6 C113.7,150.06 120.25,150.06 119.35,146.6 C118.45,150.06 125,150.06 124.1,146.6 C123.2,150.06 129.75,150.06 128.85,146.6 C127.95,150.06 134.5,150.06 133.6,146.6" fill="none" stroke="#555555" stroke-width="1.0"/>
<line x1="133.6" y1="129.2" x2="133.6" y2="131.7" stroke="#555555" stroke-width="1.0"/>
<line x1="133.6" y1="146.6" x2="133.6" y2="144" stroke="#555555" stroke-width="1.0"/>
<path d="M133.6,131.7 L133.6,132.7 L135.7,133.56 L131.5,135.27 L135.7,136.99 L131.5,138.71 L135.7,140.43 L131.5,142.14 L133.6,143 L133.6,144" fill="none" stroke="#555555" stroke-width="1.0"/>
<text x="124.7" y="124.4" font-size="4.5" fill="#555" text-anchor="middle">L</text>
<text x="124.7" y="155.1" font-size="4.5" fill="#555" text-anchor="middle">L</text>
<text x="129.6" y="139.7" font-size="4.5" fill="#555" text-anchor="middle">R</text>
<line x1="142" y1="131.7" x2="142" y2="123.6" stroke="#555555" stroke-width="1.0"/>
<line x1="142" y1="122" x2="142" y2="109.9" stroke="#555555" stroke-width="1.0"/>
<path d="M139.3,110.5 L144.7,110.5 L142,107.9 Z" fill="#555"/>
<line x1="138.6" y1="122" x2="145.4" y2="122" stroke="#555555" stroke-width="1.0"/>
<line x1="138.6" y1="123.6" x2="145.4" y2="123.6" stroke="#555555" stroke-width="1.0"/>
<text x="136.6" y="124.6" font-size="4.5" fill="#555" text-anchor="middle">C</text>
<line x1="142" y1="144" x2="142" y2="152.5" stroke="#555555" stroke-width="1.0"/>
<line x1="142" y1="154.1" x2="142" y2="165.9" stroke="#555555" stroke-width="1.0"/>
<path d="M139.3,165.3 L144.7,165.3 L142,167.9 Z" fill="#555"/>
<rect x="138.8" y="152" width="6.4" height="2.6" fill="#8a8a8a"/>
<line x1="138.8" y1="153.3" x2="145.2" y2="153.3" stroke="#ddd" stroke-width="0.5"/>
<text x="148.2" y="155" font-size="4.5" fill="#555" text-anchor="middle">C</text>
<line x1="133.6" y1="131.7" x2="173" y2="131.7" stroke="#555555" stroke-width="1.0"/>
<line x1="173" y1="128.9" x2="173" y2="134.5" stroke="#555555" stroke-width="1.0"/>
<line x1="174.6" y1="128.9" x2="174.6" y2="134.5" stroke="#555555" stroke-width="1.0"/>
<line x1="174.6" y1="131.7" x2="191" y2="131.7" stroke="#555555" stroke-width="1.0"/>
<line x1="191" y1="128.9" x2="191" y2="134.5" stroke="#555555" stroke-width="1.0"/>
<line x1="192.6" y1="128.9" x2="192.6" y2="134.5" stroke="#555555" stroke-width="1.0"/>
<line x1="192.6" y1="131.7" x2="208.3" y2="131.7" stroke="#555555" stroke-width="1.0"/>
<circle cx="210.1" cy="131.7" r="1.7" fill="#fff" stroke="#555" stroke-width="0.9"/>
<line x1="182.2" y1="131.7" x2="182.2" y2="128" stroke="#555555" stroke-width="1.0"/>
<path d="M182.2,107.6 C185.66,106.7 185.66,112.58 182.2,111.68 C185.66,110.78 185.66,116.66 182.2,115.76 C185.66,114.86 185.66,120.74 182.2,119.84 C185.66,118.94 185.66,124.82 182.2,123.92 C185.66,123.02 185.66,128.9 182.2,128" fill="none" stroke="#555555" stroke-width="1.0"/>
<line x1="182.2" y1="108.3" x2="182.2" y2="97" stroke="#555555" stroke-width="1.0"/>
<path d="M179.5,97.1 L184.9,97.1 L182.2,94.5 Z" fill="#555"/>
<text x="187.8" y="119.9" font-size="4.5" fill="#555" text-anchor="middle">L</text>
<text x="173.8" y="126.1" font-size="4.5" fill="#555" text-anchor="middle">C</text>
<text x="191.8" y="126.1" font-size="4.5" fill="#555" text-anchor="middle">C</text>
<line x1="133.6" y1="144" x2="173" y2="144" stroke="#555555" stroke-width="1.0"/>
<line x1="173" y1="141.2" x2="173" y2="146.8" stroke="#555555" stroke-width="1.0"/>
<line x1="174.6" y1="141.2" x2="174.6" y2="146.8" stroke="#555555" stroke-width="1.0"/>
<line x1="174.6" y1="144" x2="191" y2="144" stroke="#555555" stroke-width="1.0"/>
<line x1="191" y1="141.2" x2="191" y2="146.8" stroke="#555555" stroke-width="1.0"/>
<line x1="192.6" y1="141.2" x2="192.6" y2="146.8" stroke="#555555" stroke-width="1.0"/>
<line x1="192.6" y1="144" x2="208.3" y2="144" stroke="#555555" stroke-width="1.0"/>
<circle cx="210.1" cy="144" r="1.7" fill="#fff" stroke="#555" stroke-width="0.9"/>
<line x1="182.5" y1="144" x2="182.5" y2="148.2" stroke="#555555" stroke-width="1.0"/>
<path d="M182.5,148.2 C179.04,147.3 179.04,153.1 182.5,152.2 C179.04,151.3 179.04,157.1 182.5,156.2 C179.04,155.3 179.04,161.1 182.5,160.2 C179.04,159.3 179.04,165.1 182.5,164.2 C179.04,163.3 179.04,169.1 182.5,168.2" fill="none" stroke="#555555" stroke-width="1.0"/>
<line x1="182.5" y1="167.6" x2="182.5" y2="178.6" stroke="#555555" stroke-width="1.0"/>
<path d="M179.8,178.6 L185.2,178.6 L182.5,181.2 Z" fill="#555"/>
<text x="177.6" y="159.7" font-size="4.5" fill="#555" text-anchor="middle">L</text>
<text x="174" y="154.1" font-size="4.5" fill="#555" text-anchor="middle">C</text>
<text x="191.8" y="154.1" font-size="4.5" fill="#555" text-anchor="middle">C</text>
<rect x="60.9" y="19.6" width="92.8" height="161.3" rx="13.5" ry="13.5" fill="none" stroke="#ff1010" stroke-width="1.7" stroke-dasharray="6.9 5.52" stroke-dashoffset="5.52"/>
<text x="7" y="36.5" style="font-family:'Liberation Serif',serif;font-weight:bold;stroke:#111;stroke-width:0.35px;font-size:10.7px" fill="#111" text-anchor="start">90<tspan font-size="85%" dy="-1">°</tspan><tspan dy="1">divider</tspan></text>
<text x="18.8" y="55.8" style="font-family:'Liberation Serif',serif;font-weight:bold;stroke:#111;stroke-width:0.35px;font-size:10.2px" fill="#111" text-anchor="start">Input</text>
<text x="19.7" y="141.9" style="font-family:'Liberation Serif',serif;font-weight:bold;stroke:#111;stroke-width:0.35px;font-size:10.2px" fill="#111" text-anchor="start">Input</text>
<text x="3.2" y="164.1" style="font-family:'Liberation Serif',serif;font-weight:bold;stroke:#111;stroke-width:0.35px;font-size:10.5px" fill="#111" text-anchor="start">0<tspan font-size="85%" dy="-1">°</tspan><tspan dy="1"> divider</tspan></text>
<text x="217.7" y="55.1" style="font-family:'Liberation Serif',serif;font-weight:bold;stroke:#111;stroke-width:0.35px;font-size:10.3px" fill="#111" text-anchor="start">Output</text>
<text x="214.9" y="139.4" style="font-family:'Liberation Serif',serif;font-weight:bold;stroke:#111;stroke-width:0.35px;font-size:10.3px" fill="#111" text-anchor="start">Output</text>
<text x="220.2" y="15.9" style="font-family:'Liberation Serif',serif;font-weight:bold;stroke:#111;stroke-width:0.35px;font-size:8.2px" fill="#111" text-anchor="middle">+45<tspan font-size="85%" dy="-0.8">°</tspan></text>
<text x="221.1" y="26.1" style="font-family:'Liberation Serif',serif;font-weight:bold;stroke:#111;stroke-width:0.35px;font-size:8.1px" fill="#111" text-anchor="middle">Phase Shifter</text>
<text x="232.7" y="69.6" style="font-family:'Liberation Serif',serif;font-weight:bold;stroke:#111;stroke-width:0.35px;font-size:8.2px" fill="#111" text-anchor="middle">-45<tspan font-size="85%" dy="-0.8">°</tspan></text>
<text x="233.6" y="79.5" style="font-family:'Liberation Serif',serif;font-weight:bold;stroke:#111;stroke-width:0.35px;font-size:8.1px" fill="#111" text-anchor="middle">Phase Shifter</text>
<text x="216.2" y="104" style="font-family:'Liberation Serif',serif;font-weight:bold;stroke:#111;stroke-width:0.35px;font-size:8.2px" fill="#111" text-anchor="middle">+45<tspan font-size="85%" dy="-0.8">°</tspan></text>
<text x="217.2" y="114.3" style="font-family:'Liberation Serif',serif;font-weight:bold;stroke:#111;stroke-width:0.35px;font-size:8.1px" fill="#111" text-anchor="middle">Phase Shifter</text>
<text x="216.2" y="161.4" style="font-family:'Liberation Serif',serif;font-weight:bold;stroke:#111;stroke-width:0.35px;font-size:8.2px" fill="#111" text-anchor="middle">+45<tspan font-size="85%" dy="-0.8">°</tspan></text>
<text x="217.2" y="171.6" style="font-family:'Liberation Serif',serif;font-weight:bold;stroke:#111;stroke-width:0.35px;font-size:8.1px" fill="#111" text-anchor="middle">Phase Shifter</text>
<text x="107.3" y="93.5" style="font-family:'Liberation Serif',serif;stroke:#222;stroke-width:0.12px;font-size:10.4px" fill="#1e1e1e" text-anchor="middle">Lumped Wilkinson</text>
<text x="107.6" y="105.6" style="font-family:'Liberation Serif',serif;stroke:#222;stroke-width:0.12px;font-size:10.4px" fill="#1e1e1e" text-anchor="middle">Divider</text>
<text x="129.9" y="197.8" style="font-family:'Liberation Serif',serif;stroke:#222;stroke-width:0.12px;font-size:11px" fill="#111" text-anchor="middle">(<tspan font-weight="bold">a</tspan>)</text>
</g>
<defs><pattern id="hat" patternUnits="userSpaceOnUse" width="3.9" height="3.9" patternTransform="rotate(45)"><rect width="3.9" height="3.9" fill="#fff"/><line x1="0.6" y1="0" x2="0.6" y2="3.9" stroke="#a3e2a3" stroke-width="1.1"/></pattern><pattern id="indp" patternUnits="userSpaceOnUse" width="2.6" height="2.6" patternTransform="rotate(45)"><rect width="2.6" height="2.6" fill="#c3e6b6"/><line x1="0.5" y1="0" x2="0.5" y2="2.6" stroke="#a4d892" stroke-width="0.9"/></pattern><pattern id="hat2" patternUnits="userSpaceOnUse" width="3.9" height="3.9" patternTransform="rotate(45)"><rect width="3.9" height="3.9" fill="#e6f6e2"/><line x1="0.6" y1="0" x2="0.6" y2="3.9" stroke="#a3e2a3" stroke-width="1.1"/></pattern></defs>
<g id="pb">
<polygon points="345.3,15.9 377,15.9 377,10.6 408,10.6 408,13.6 385.4,46.1 372.5,46.1" fill="url(#hat)" stroke="#a6e0a6" stroke-width="0.8"/>
<rect x="357.6" y="61.7" width="52.9" height="55.9" fill="url(#hat)" stroke="#a6e0a6" stroke-width="0.8"/>
<polygon points="364.6,132.2 394,132.2 407.1,146.9 407.1,167.4 344.9,167.4 344.9,154.3" fill="url(#hat)" stroke="#a6e0a6" stroke-width="0.8"/>
<path d="M359,64 L409,115 M409,64 L359,115" stroke="#e4eee2" stroke-width="3.4" fill="none" opacity="0.6"/>
<path d="M352,22 L370,42 M404,16 L386,42 M350,160 L366,140 M404,160 L388,141" stroke="#dde9da" stroke-width="3" fill="none" opacity="0.7"/>
<rect x="363.8" y="21.1" width="6.8" height="4.6" transform="rotate(45 367.2 23.4)" fill="#dbe6d8" stroke="#aab8a6" stroke-width="0.6"/>
<ellipse cx="367.2" cy="23.4" rx="2.1" ry="1.2" transform="rotate(45 367.2 23.4)" fill="#f0b62c" stroke="#c08030" stroke-width="0.55"/>
<rect x="358.5" y="26.4" width="6.8" height="4.6" transform="rotate(45 361.9 28.7)" fill="#dbe6d8" stroke="#aab8a6" stroke-width="0.6"/>
<ellipse cx="361.9" cy="28.7" rx="2.1" ry="1.2" transform="rotate(45 361.9 28.7)" fill="#f0b62c" stroke="#c08030" stroke-width="0.55"/>
<rect x="378.2" y="31" width="6.8" height="4.6" transform="rotate(0 381.6 33.3)" fill="#dbe6d8" stroke="#aab8a6" stroke-width="0.6"/>
<ellipse cx="381.6" cy="33.3" rx="2.1" ry="1.2" transform="rotate(0 381.6 33.3)" fill="#f0b62c" stroke="#c08030" stroke-width="0.55"/>
<rect x="378.2" y="38.5" width="6.8" height="4.6" transform="rotate(0 381.6 40.8)" fill="#dbe6d8" stroke="#aab8a6" stroke-width="0.6"/>
<ellipse cx="381.6" cy="40.8" rx="2.1" ry="1.2" transform="rotate(0 381.6 40.8)" fill="#f0b62c" stroke="#c08030" stroke-width="0.55"/>
<rect x="394.8" y="18.9" width="6.8" height="4.6" transform="rotate(-45 398.2 21.2)" fill="#dbe6d8" stroke="#aab8a6" stroke-width="0.6"/>
<ellipse cx="398.2" cy="21.2" rx="2.1" ry="1.2" transform="rotate(-45 398.2 21.2)" fill="#f0b62c" stroke="#c08030" stroke-width="0.55"/>
<rect x="399.4" y="24.9" width="6.8" height="4.6" transform="rotate(-45 402.8 27.2)" fill="#dbe6d8" stroke="#aab8a6" stroke-width="0.6"/>
<ellipse cx="402.8" cy="27.2" rx="2.1" ry="1.2" transform="rotate(-45 402.8 27.2)" fill="#f0b62c" stroke="#c08030" stroke-width="0.55"/>
<rect x="366.4" y="64.5" width="6.8" height="4.6" transform="rotate(45 369.8 66.8)" fill="#dbe6d8" stroke="#aab8a6" stroke-width="0.6"/>
<ellipse cx="369.8" cy="66.8" rx="2.1" ry="1.2" transform="rotate(45 369.8 66.8)" fill="#f0b62c" stroke="#c08030" stroke-width="0.55"/>
<rect x="361.2" y="70.5" width="6.8" height="4.6" transform="rotate(45 364.6 72.8)" fill="#dbe6d8" stroke="#aab8a6" stroke-width="0.6"/>
<ellipse cx="364.6" cy="72.8" rx="2.1" ry="1.2" transform="rotate(45 364.6 72.8)" fill="#f0b62c" stroke="#c08030" stroke-width="0.55"/>
<rect x="396.1" y="68.9" width="6.8" height="4.6" transform="rotate(-45 399.5 71.2)" fill="#dbe6d8" stroke="#aab8a6" stroke-width="0.6"/>
<ellipse cx="399.5" cy="71.2" rx="2.1" ry="1.2" transform="rotate(-45 399.5 71.2)" fill="#f0b62c" stroke="#c08030" stroke-width="0.55"/>
<rect x="401.7" y="74.6" width="6.8" height="4.6" transform="rotate(-45 405.1 76.9)" fill="#dbe6d8" stroke="#aab8a6" stroke-width="0.6"/>
<ellipse cx="405.1" cy="76.9" rx="2.1" ry="1.2" transform="rotate(-45 405.1 76.9)" fill="#f0b62c" stroke="#c08030" stroke-width="0.55"/>
<rect x="382.6" y="80.6" width="6.8" height="4.6" transform="rotate(45 386 82.9)" fill="#dbe6d8" stroke="#aab8a6" stroke-width="0.6"/>
<ellipse cx="386" cy="82.9" rx="2.1" ry="1.2" transform="rotate(45 386 82.9)" fill="#f0b62c" stroke="#c08030" stroke-width="0.55"/>
<rect x="376.9" y="86" width="6.8" height="4.6" transform="rotate(45 380.3 88.3)" fill="#dbe6d8" stroke="#aab8a6" stroke-width="0.6"/>
<ellipse cx="380.3" cy="88.3" rx="2.1" ry="1.2" transform="rotate(45 380.3 88.3)" fill="#f0b62c" stroke="#c08030" stroke-width="0.55"/>
<rect x="390" y="87.5" width="6.8" height="4.6" transform="rotate(45 393.4 89.8)" fill="#dbe6d8" stroke="#aab8a6" stroke-width="0.6"/>
<ellipse cx="393.4" cy="89.8" rx="2.1" ry="1.2" transform="rotate(45 393.4 89.8)" fill="#f0b62c" stroke="#c08030" stroke-width="0.55"/>
<rect x="384.4" y="93.1" width="6.8" height="4.6" transform="rotate(45 387.8 95.4)" fill="#dbe6d8" stroke="#aab8a6" stroke-width="0.6"/>
<ellipse cx="387.8" cy="95.4" rx="2.1" ry="1.2" transform="rotate(45 387.8 95.4)" fill="#f0b62c" stroke="#c08030" stroke-width="0.55"/>
<rect x="361.8" y="103.2" width="6.8" height="4.6" transform="rotate(-45 365.2 105.5)" fill="#dbe6d8" stroke="#aab8a6" stroke-width="0.6"/>
<ellipse cx="365.2" cy="105.5" rx="2.1" ry="1.2" transform="rotate(-45 365.2 105.5)" fill="#f0b62c" stroke="#c08030" stroke-width="0.55"/>
<rect x="366.8" y="108.8" width="6.8" height="4.6" transform="rotate(-45 370.2 111.1)" fill="#dbe6d8" stroke="#aab8a6" stroke-width="0.6"/>
<ellipse cx="370.2" cy="111.1" rx="2.1" ry="1.2" transform="rotate(-45 370.2 111.1)" fill="#f0b62c" stroke="#c08030" stroke-width="0.55"/>
<rect x="401.7" y="100.2" width="6.8" height="4.6" transform="rotate(-45 405.1 102.5)" fill="#dbe6d8" stroke="#aab8a6" stroke-width="0.6"/>
<ellipse cx="405.1" cy="102.5" rx="2.1" ry="1.2" transform="rotate(-45 405.1 102.5)" fill="#f0b62c" stroke="#c08030" stroke-width="0.55"/>
<rect x="396.5" y="105.2" width="6.8" height="4.6" transform="rotate(-45 399.9 107.5)" fill="#dbe6d8" stroke="#aab8a6" stroke-width="0.6"/>
<ellipse cx="399.9" cy="107.5" rx="2.1" ry="1.2" transform="rotate(-45 399.9 107.5)" fill="#f0b62c" stroke="#c08030" stroke-width="0.55"/>
<rect x="378.8" y="134.8" width="6.8" height="4.6" transform="rotate(0 382.2 137.1)" fill="#dbe6d8" stroke="#aab8a6" stroke-width="0.6"/>
<ellipse cx="382.2" cy="137.1" rx="2.1" ry="1.2" transform="rotate(0 382.2 137.1)" fill="#f0b62c" stroke="#c08030" stroke-width="0.55"/>
<rect x="378.8" y="142.5" width="6.8" height="4.6" transform="rotate(0 382.2 144.8)" fill="#dbe6d8" stroke="#aab8a6" stroke-width="0.6"/>
<ellipse cx="382.2" cy="144.8" rx="2.1" ry="1.2" transform="rotate(0 382.2 144.8)" fill="#f0b62c" stroke="#c08030" stroke-width="0.55"/>
<rect x="357.9" y="148.7" width="6.8" height="4.6" transform="rotate(-45 361.3 151)" fill="#dbe6d8" stroke="#aab8a6" stroke-width="0.6"/>
<ellipse cx="361.3" cy="151" rx="2.1" ry="1.2" transform="rotate(-45 361.3 151)" fill="#f0b62c" stroke="#c08030" stroke-width="0.55"/>
<rect x="363.1" y="154.5" width="6.8" height="4.6" transform="rotate(-45 366.5 156.8)" fill="#dbe6d8" stroke="#aab8a6" stroke-width="0.6"/>
<ellipse cx="366.5" cy="156.8" rx="2.1" ry="1.2" transform="rotate(-45 366.5 156.8)" fill="#f0b62c" stroke="#c08030" stroke-width="0.55"/>
<rect x="399.6" y="148.4" width="6.8" height="4.6" transform="rotate(45 403 150.7)" fill="#dbe6d8" stroke="#aab8a6" stroke-width="0.6"/>
<ellipse cx="403" cy="150.7" rx="2.1" ry="1.2" transform="rotate(45 403 150.7)" fill="#f0b62c" stroke="#c08030" stroke-width="0.55"/>
<rect x="394.2" y="154" width="6.8" height="4.6" transform="rotate(45 397.6 156.3)" fill="#dbe6d8" stroke="#aab8a6" stroke-width="0.6"/>
<ellipse cx="397.6" cy="156.3" rx="2.1" ry="1.2" transform="rotate(45 397.6 156.3)" fill="#f0b62c" stroke="#c08030" stroke-width="0.55"/>
<rect x="410.5" y="158" width="5" height="4.5" fill="#d6ecd0" stroke="#a6dca0" stroke-width="0.5"/>
<rect x="345.3" y="3.1" width="7.6" height="12.6" fill="url(#hat2)" stroke="#a6e0a6" stroke-width="0.8"/>
<ellipse cx="349.1" cy="13" rx="2.1" ry="1.2" transform="rotate(0 349.1 13)" fill="#f0b62c" stroke="#c08030" stroke-width="0.55"/>
<rect x="369.6" y="3.1" width="7.3" height="12.6" fill="url(#hat2)" stroke="#a6e0a6" stroke-width="0.8"/>
<ellipse cx="373.25" cy="13" rx="2.1" ry="1.2" transform="rotate(0 373.25 13)" fill="#f0b62c" stroke="#c08030" stroke-width="0.55"/>
<rect x="345.3" y="45.4" width="7.6" height="12.1" fill="url(#hat2)" stroke="#a6e0a6" stroke-width="0.8"/>
<ellipse cx="349.1" cy="48.1" rx="2.1" ry="1.2" transform="rotate(0 349.1 48.1)" fill="#f0b62c" stroke="#c08030" stroke-width="0.55"/>
<rect x="345.3" y="73.5" width="7.4" height="12.9" fill="url(#hat2)" stroke="#a6e0a6" stroke-width="0.8"/>
<ellipse cx="349" cy="83.2" rx="2.1" ry="1.2" transform="rotate(0 349 83.2)" fill="#f0b62c" stroke="#c08030" stroke-width="0.55"/>
<rect x="345.3" y="92.9" width="7.4" height="12.3" fill="url(#hat2)" stroke="#a6e0a6" stroke-width="0.8"/>
<ellipse cx="349" cy="95.2" rx="2.1" ry="1.2" transform="rotate(0 349 95.2)" fill="#f0b62c" stroke="#c08030" stroke-width="0.55"/>
<rect x="345.5" y="121.5" width="7" height="11.5" fill="url(#hat2)" stroke="#a6e0a6" stroke-width="0.8"/>
<ellipse cx="349" cy="131.4" rx="2.1" ry="1.2" transform="rotate(0 349 131.4)" fill="#f0b62c" stroke="#c08030" stroke-width="0.55"/>
<rect x="344.9" y="164.1" width="7.4" height="12.3" fill="url(#hat2)" stroke="#a6e0a6" stroke-width="0.8"/>
<ellipse cx="348.6" cy="166.6" rx="2.1" ry="1.2" transform="rotate(0 348.6 166.6)" fill="#f0b62c" stroke="#c08030" stroke-width="0.55"/>
<rect x="369.5" y="164.1" width="6.9" height="12.3" fill="url(#hat2)" stroke="#a6e0a6" stroke-width="0.8"/>
<ellipse cx="372.95" cy="166.6" rx="2.1" ry="1.2" transform="rotate(0 372.95 166.6)" fill="#f0b62c" stroke="#c08030" stroke-width="0.55"/>
<polygon points="357.4,3.1 364.6,3.1 364.6,13.2 361,18.3 357.4,13.2" fill="#fff" stroke="#a6e0a6" stroke-width="0.8"/>
<polygon points="344.4,62 355,62 359.7,65.3 355,68.7 344.4,68.7" fill="#fff" stroke="#a6e0a6" stroke-width="0.8"/>
<polygon points="344.4,110 355,110 359.7,113.5 355,117 344.4,117" fill="#fff" stroke="#a6e0a6" stroke-width="0.8"/>
<polygon points="357.2,164.5 360.9,160.8 364.6,164.5 364.6,176.4 357.2,176.4" fill="#fff" stroke="#a6e0a6" stroke-width="0.8"/>
<path d="M408,43.6 L468,43.6" fill="none" stroke="#b8e6b0" stroke-width="1.5"/>
<path d="M419.1,22 L419.1,38.3" fill="none" stroke="#b8e6b0" stroke-width="1.1"/>
<path d="M419.1,59.4 L419.1,66.5" fill="none" stroke="#b8e6b0" stroke-width="1.1"/>
<path d="M414,36.8 L424.2,36.8" fill="none" stroke="#b8e6b0" stroke-width="1.0"/>
<path d="M414,48.8 L424.2,48.8" fill="none" stroke="#b8e6b0" stroke-width="1.0"/>
<rect x="421.5" y="40" width="24.5" height="6.9" fill="#f9fdf8" stroke="#a6dca0" stroke-width="0.6"/>
<path d="M446,43.6 L468,43.6" fill="none" stroke="#b8e6b0" stroke-width="1.3"/>
<polygon points="467.7,42.6 481.4,39.8 494.7,39.8 494.7,47.3 481.4,47.3 467.7,44.6" fill="url(#hat2)" stroke="#a6e0a6" stroke-width="0.8"/>
<rect x="482.6" y="28.2" width="12.1" height="7" fill="url(#hat2)" stroke="#a6e0a6" stroke-width="0.8"/>
<ellipse cx="485.6" cy="31.7" rx="1.2" ry="2.1" transform="rotate(0 485.6 31.7)" fill="#f0b62c" stroke="#c08030" stroke-width="0.55"/>
<rect x="482.6" y="51.8" width="12.1" height="7.6" fill="url(#hat2)" stroke="#a6e0a6" stroke-width="0.8"/>
<ellipse cx="485.6" cy="55.6" rx="1.2" ry="2.1" transform="rotate(0 485.6 55.6)" fill="#f0b62c" stroke="#c08030" stroke-width="0.55"/>
<path d="M408,135.4 L468,135.4" fill="none" stroke="#b8e6b0" stroke-width="1.5"/>
<path d="M418.7,113.5 L418.7,118.3" fill="none" stroke="#b8e6b0" stroke-width="1.1"/>
<path d="M418.7,153 L418.7,156.6" fill="none" stroke="#b8e6b0" stroke-width="1.1"/>
<path d="M414.6,130.2 L424,130.2" fill="none" stroke="#b8e6b0" stroke-width="1.0"/>
<path d="M414.6,139.5 L424,139.5" fill="none" stroke="#b8e6b0" stroke-width="1.0"/>
<rect x="421.5" y="131.8" width="24.5" height="6.9" fill="#f9fdf8" stroke="#a6dca0" stroke-width="0.6"/>
<path d="M446,135.4 L468,135.4" fill="none" stroke="#b8e6b0" stroke-width="1.3"/>
<polygon points="467.7,134.4 481.4,131.6 494.7,131.6 494.7,139.1 481.4,139.1 467.7,136.4" fill="url(#hat2)" stroke="#a6e0a6" stroke-width="0.8"/>
<rect x="482.6" y="120" width="12.1" height="7" fill="url(#hat2)" stroke="#a6e0a6" stroke-width="0.8"/>
<ellipse cx="485.6" cy="123.5" rx="1.2" ry="2.1" transform="rotate(0 485.6 123.5)" fill="#f0b62c" stroke="#c08030" stroke-width="0.55"/>
<rect x="482.6" y="143.6" width="12.1" height="7.6" fill="url(#hat2)" stroke="#a6e0a6" stroke-width="0.8"/>
<ellipse cx="485.6" cy="147.4" rx="1.2" ry="2.1" transform="rotate(0 485.6 147.4)" fill="#f0b62c" stroke="#c08030" stroke-width="0.55"/>
<rect x="417.5" y="14.1" width="11.3" height="8" fill="url(#indp)" stroke="#9fd390" stroke-width="0.6"/>
<rect x="420.1" y="17.5" width="5.1" height="2" fill="#fff" stroke="#8fc880" stroke-width="0.6"/>
<rect x="424.2" y="26.8" width="11.4" height="12.9" fill="url(#indp)" stroke="#9fd390" stroke-width="0.6"/>
<rect x="427.6" y="30.2" width="4.6" height="6.1" fill="#fff" stroke="#8fc880" stroke-width="0.6"/>
<rect x="443.3" y="25.2" width="11.7" height="15.7" fill="url(#indp)" stroke="#9fd390" stroke-width="0.6"/>
<rect x="446.3" y="28.8" width="5.5" height="8.5" fill="#fff" stroke="#8fc880" stroke-width="0.6"/>
<rect x="424.2" y="46.3" width="11.4" height="14.1" fill="url(#indp)" stroke="#9fd390" stroke-width="0.6"/>
<rect x="427.6" y="49.8" width="4.6" height="8" fill="#fff" stroke="#8fc880" stroke-width="0.6"/>
<rect x="443.3" y="45.3" width="11.7" height="16.6" fill="url(#indp)" stroke="#9fd390" stroke-width="0.6"/>
<rect x="446.3" y="49" width="5.5" height="9.4" fill="#fff" stroke="#8fc880" stroke-width="0.6"/>
<rect x="421.1" y="65.5" width="15.8" height="13.1" fill="url(#indp)" stroke="#9fd390" stroke-width="0.6"/>
<rect x="425.2" y="69.9" width="8" height="4.7" fill="#fff" stroke="#8fc880" stroke-width="0.6"/>
<rect x="410.6" y="21.1" width="4.5" height="7.1" fill="#dbe6d8" stroke="#aab8a6" stroke-width="0.6"/>
<ellipse cx="412.85" cy="24.65" rx="1.15" ry="2.3" transform="rotate(0 412.85 24.65)" fill="#f0b62c" stroke="#c08030" stroke-width="0.55"/>
<rect x="407.4" y="34.8" width="6.7" height="4.1" fill="#dbe6d8" stroke="#aab8a6" stroke-width="0.6"/>
<ellipse cx="410.75" cy="36.85" rx="2.3" ry="1.15" transform="rotate(0 410.75 36.85)" fill="#f0b62c" stroke="#c08030" stroke-width="0.55"/>
<rect x="407.4" y="46.3" width="6.7" height="5.1" fill="#dbe6d8" stroke="#aab8a6" stroke-width="0.6"/>
<ellipse cx="410.75" cy="48.85" rx="2.3" ry="1.15" transform="rotate(0 410.75 48.85)" fill="#f0b62c" stroke="#c08030" stroke-width="0.55"/>
<rect x="437.3" y="28.2" width="4.4" height="7" fill="#dbe6d8" stroke="#aab8a6" stroke-width="0.6"/>
<ellipse cx="439.5" cy="31.7" rx="1.15" ry="2.3" transform="rotate(0 439.5 31.7)" fill="#f0b62c" stroke="#c08030" stroke-width="0.55"/>
<rect x="437.3" y="51.4" width="4.4" height="7" fill="#dbe6d8" stroke="#aab8a6" stroke-width="0.6"/>
<ellipse cx="439.5" cy="54.9" rx="1.15" ry="2.3" transform="rotate(0 439.5 54.9)" fill="#f0b62c" stroke="#c08030" stroke-width="0.55"/>
<rect x="457" y="45.8" width="4.5" height="8.6" fill="#dbe6d8" stroke="#aab8a6" stroke-width="0.6"/>
<ellipse cx="459.25" cy="50.1" rx="1.15" ry="2.3" transform="rotate(0 459.25 50.1)" fill="#f0b62c" stroke="#c08030" stroke-width="0.55"/>
<rect x="417.1" y="53" width="3.6" height="6.4" fill="#dbe6d8" stroke="#aab8a6" stroke-width="0.6"/>
<ellipse cx="418.9" cy="56.2" rx="1.15" ry="2.3" transform="rotate(0 418.9 56.2)" fill="#f0b62c" stroke="#c08030" stroke-width="0.55"/>
<rect x="437.3" y="68.5" width="7" height="4" fill="#dbe6d8" stroke="#aab8a6" stroke-width="0.6"/>
<ellipse cx="440.8" cy="70.5" rx="2.3" ry="1.15" transform="rotate(0 440.8 70.5)" fill="#f0b62c" stroke="#c08030" stroke-width="0.55"/>
<rect x="411" y="67.1" width="5.7" height="4.4" fill="#d6ecd0" stroke="#a6dca0" stroke-width="0.5"/>
<rect x="421.7" y="100.3" width="14.4" height="13.2" fill="url(#indp)" stroke="#9fd390" stroke-width="0.6"/>
<rect x="425.5" y="104.5" width="7" height="4.5" fill="#fff" stroke="#8fc880" stroke-width="0.6"/>
<rect x="424" y="117.4" width="12.8" height="14.8" fill="url(#indp)" stroke="#9fd390" stroke-width="0.6"/>
<rect x="428" y="121" width="4.5" height="7.5" fill="#fff" stroke="#8fc880" stroke-width="0.6"/>
<rect x="443.6" y="116.3" width="12.9" height="15.9" fill="url(#indp)" stroke="#9fd390" stroke-width="0.6"/>
<rect x="447.5" y="119.5" width="4.5" height="9.5" fill="#fff" stroke="#8fc880" stroke-width="0.6"/>
<rect x="424" y="137.8" width="12.8" height="15.9" fill="url(#indp)" stroke="#9fd390" stroke-width="0.6"/>
<rect x="428" y="141.5" width="4.5" height="8.5" fill="#fff" stroke="#8fc880" stroke-width="0.6"/>
<rect x="443.6" y="137.8" width="12.9" height="17" fill="url(#indp)" stroke="#9fd390" stroke-width="0.6"/>
<rect x="447.5" y="141" width="4.5" height="10.5" fill="#fff" stroke="#8fc880" stroke-width="0.6"/>
<rect x="421.7" y="156.6" width="15.6" height="13.1" fill="url(#indp)" stroke="#9fd390" stroke-width="0.6"/>
<rect x="425.5" y="160.5" width="7.5" height="5" fill="#fff" stroke="#8fc880" stroke-width="0.6"/>
<rect x="437.3" y="106.8" width="7.2" height="3.8" fill="#dbe6d8" stroke="#aab8a6" stroke-width="0.6"/>
<ellipse cx="440.9" cy="108.7" rx="2.3" ry="1.15" transform="rotate(0 440.9 108.7)" fill="#f0b62c" stroke="#c08030" stroke-width="0.55"/>
<rect x="411" y="108" width="7" height="4.3" fill="#d6ecd0" stroke="#a6dca0" stroke-width="0.5"/>
<rect x="437.3" y="160" width="7.2" height="5" fill="#dbe6d8" stroke="#aab8a6" stroke-width="0.6"/>
<ellipse cx="440.9" cy="162.5" rx="2.3" ry="1.15" transform="rotate(0 440.9 162.5)" fill="#f0b62c" stroke="#c08030" stroke-width="0.55"/>
<rect x="417" y="118.3" width="3.5" height="8.3" fill="#dbe6d8" stroke="#aab8a6" stroke-width="0.6"/>
<ellipse cx="418.75" cy="122.45" rx="1.15" ry="2.3" transform="rotate(0 418.75 122.45)" fill="#f0b62c" stroke="#c08030" stroke-width="0.55"/>
<rect x="417" y="145.8" width="3.5" height="7.2" fill="#dbe6d8" stroke="#aab8a6" stroke-width="0.6"/>
<ellipse cx="418.75" cy="149.4" rx="1.15" ry="2.3" transform="rotate(0 418.75 149.4)" fill="#f0b62c" stroke="#c08030" stroke-width="0.55"/>
<rect x="407.4" y="127.8" width="7.2" height="4.8" fill="#dbe6d8" stroke="#aab8a6" stroke-width="0.6"/>
<ellipse cx="411" cy="130.2" rx="2.3" ry="1.15" transform="rotate(0 411 130.2)" fill="#f0b62c" stroke="#c08030" stroke-width="0.55"/>
<rect x="407.4" y="137.4" width="7.2" height="4.3" fill="#dbe6d8" stroke="#aab8a6" stroke-width="0.6"/>
<ellipse cx="411" cy="139.55" rx="2.3" ry="1.15" transform="rotate(0 411 139.55)" fill="#f0b62c" stroke="#c08030" stroke-width="0.55"/>
<rect x="437.3" y="120.7" width="4.7" height="7.1" fill="#dbe6d8" stroke="#aab8a6" stroke-width="0.6"/>
<ellipse cx="439.65" cy="124.25" rx="1.15" ry="2.3" transform="rotate(0 439.65 124.25)" fill="#f0b62c" stroke="#c08030" stroke-width="0.55"/>
<rect x="437.3" y="142.2" width="4.7" height="7.2" fill="#dbe6d8" stroke="#aab8a6" stroke-width="0.6"/>
<ellipse cx="439.65" cy="145.8" rx="1.15" ry="2.3" transform="rotate(0 439.65 145.8)" fill="#f0b62c" stroke="#c08030" stroke-width="0.55"/>
<rect x="456.4" y="123" width="6" height="8.4" fill="#dbe6d8" stroke="#aab8a6" stroke-width="0.6"/>
<ellipse cx="459.4" cy="127.2" rx="1.15" ry="2.3" transform="rotate(0 459.4 127.2)" fill="#f0b62c" stroke="#c08030" stroke-width="0.55"/>
<rect x="420.9" y="84.1" width="73" height="9.5" fill="url(#hat2)" stroke="#a6e0a6" stroke-width="0.8"/>
<ellipse cx="424.7" cy="89.2" rx="2.2" ry="1.25" transform="rotate(0 424.7 89.2)" fill="#f0b62c" stroke="#c08030" stroke-width="0.55"/>
<ellipse cx="456.5" cy="89.2" rx="2.2" ry="1.25" transform="rotate(0 456.5 89.2)" fill="#f0b62c" stroke="#c08030" stroke-width="0.55"/>
<ellipse cx="486" cy="89.2" rx="2.2" ry="1.25" transform="rotate(0 486 89.2)" fill="#f0b62c" stroke="#c08030" stroke-width="0.55"/>
<text x="361" y="12.3" style="font-family:'Liberation Serif',serif;font-weight:bold;stroke:#000;stroke-width:0.3px;font-size:10px" fill="#000" text-anchor="middle">3</text>
<text x="350.5" y="68.8" style="font-family:'Liberation Serif',serif;font-weight:bold;stroke:#000;stroke-width:0.3px;font-size:10px" fill="#000" text-anchor="middle">4</text>
<text x="350.5" y="117" style="font-family:'Liberation Serif',serif;font-weight:bold;stroke:#000;stroke-width:0.3px;font-size:10px" fill="#000" text-anchor="middle">5</text>
<text x="360.9" y="175.8" style="font-family:'Liberation Serif',serif;font-weight:bold;stroke:#000;stroke-width:0.3px;font-size:10px" fill="#000" text-anchor="middle">6</text>
<text x="489.8" y="46.2" style="font-family:'Liberation Serif',serif;font-weight:bold;stroke:#000;stroke-width:0.3px;font-size:10px" fill="#000" text-anchor="middle">1</text>
<text x="489.8" y="138.9" style="font-family:'Liberation Serif',serif;font-weight:bold;stroke:#000;stroke-width:0.3px;font-size:10px" fill="#000" text-anchor="middle">2</text>
<text x="420.4" y="197.8" style="font-family:'Liberation Serif',serif;stroke:#222;stroke-width:0.12px;font-size:11px" fill="#111" text-anchor="middle">(<tspan font-weight="bold">b</tspan>)</text>
</g>
</svg>
</body></html>
